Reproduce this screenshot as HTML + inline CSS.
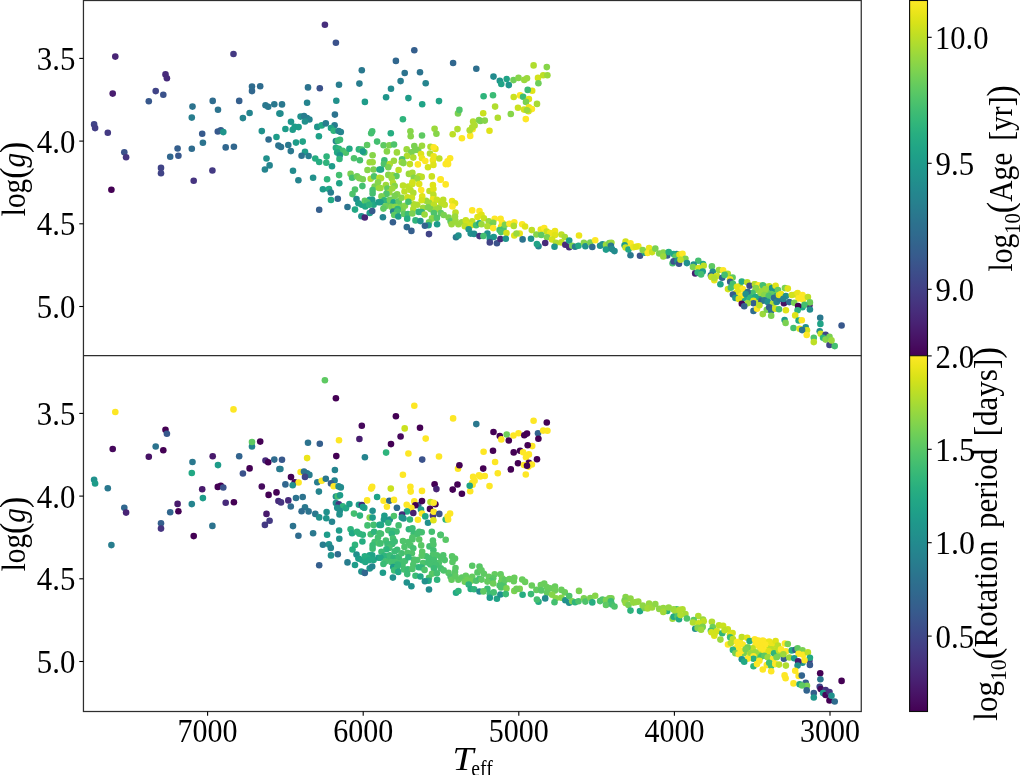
<!DOCTYPE html>
<html><head><meta charset="utf-8"><title>Teff logg</title>
<style>html,body{margin:0;padding:0;background:#fff}svg{display:block}text{font-family:"Liberation Serif",serif;fill:#000}</style>
</head><body>
<svg width="1020" height="775" viewBox="0 0 1020 775">
<rect width="1020" height="775" fill="#fff"/>
<defs><linearGradient id="vg" x1="0" y1="1" x2="0" y2="0">
<stop offset="0.0000" stop-color="#440154"/>
<stop offset="0.0312" stop-color="#470d60"/>
<stop offset="0.0625" stop-color="#48186a"/>
<stop offset="0.0938" stop-color="#482374"/>
<stop offset="0.1250" stop-color="#472d7b"/>
<stop offset="0.1562" stop-color="#453781"/>
<stop offset="0.1875" stop-color="#424086"/>
<stop offset="0.2188" stop-color="#3e4989"/>
<stop offset="0.2500" stop-color="#3b528b"/>
<stop offset="0.2812" stop-color="#375b8d"/>
<stop offset="0.3125" stop-color="#33638d"/>
<stop offset="0.3438" stop-color="#2f6b8e"/>
<stop offset="0.3750" stop-color="#2c728e"/>
<stop offset="0.4062" stop-color="#297a8e"/>
<stop offset="0.4375" stop-color="#26828e"/>
<stop offset="0.4688" stop-color="#23898e"/>
<stop offset="0.5000" stop-color="#21918c"/>
<stop offset="0.5312" stop-color="#1f988b"/>
<stop offset="0.5625" stop-color="#1fa088"/>
<stop offset="0.5938" stop-color="#22a785"/>
<stop offset="0.6250" stop-color="#28ae80"/>
<stop offset="0.6562" stop-color="#32b67a"/>
<stop offset="0.6875" stop-color="#3fbc73"/>
<stop offset="0.7188" stop-color="#4ec36b"/>
<stop offset="0.7500" stop-color="#5ec962"/>
<stop offset="0.7812" stop-color="#70cf57"/>
<stop offset="0.8125" stop-color="#84d44b"/>
<stop offset="0.8438" stop-color="#98d83e"/>
<stop offset="0.8750" stop-color="#addc30"/>
<stop offset="0.9062" stop-color="#c2df23"/>
<stop offset="0.9375" stop-color="#d8e219"/>
<stop offset="0.9688" stop-color="#ece51b"/>
<stop offset="1.0000" stop-color="#fde725"/>
</linearGradient>
<clipPath id="c1"><rect x="83.45" y="0.5" width="777.8499999999999" height="355.2"/></clipPath>
<clipPath id="c2"><rect x="83.45" y="355.7" width="777.8499999999999" height="355.75000000000006"/></clipPath>
</defs>
<g clip-path="url(#c1)">
<circle cx="399.6" cy="204.7" r="3.3" fill="#7ad151"/>
<circle cx="423.1" cy="207.7" r="3.3" fill="#9bd93c"/>
<circle cx="438.8" cy="207.7" r="3.3" fill="#9bd93c"/>
<circle cx="410.4" cy="190.0" r="3.3" fill="#bddf26"/>
<circle cx="385.9" cy="185.1" r="3.3" fill="#9bd93c"/>
<circle cx="426.1" cy="200.8" r="3.3" fill="#9bd93c"/>
<circle cx="417.3" cy="204.7" r="3.3" fill="#b0dd2f"/>
<circle cx="402.5" cy="209.6" r="3.3" fill="#7ad151"/>
<circle cx="388.8" cy="203.7" r="3.3" fill="#5ec962"/>
<circle cx="448.6" cy="217.5" r="3.3" fill="#7ad151"/>
<circle cx="458.4" cy="224.3" r="3.3" fill="#9bd93c"/>
<circle cx="444.7" cy="204.7" r="3.3" fill="#bddf26"/>
<circle cx="760.4" cy="289.6" r="3.3" fill="#9bd93c"/>
<circle cx="774.6" cy="292.6" r="3.3" fill="#7ad151"/>
<circle cx="739.8" cy="286.2" r="3.3" fill="#bddf26"/>
<circle cx="747.6" cy="292.1" r="3.3" fill="#7ad151"/>
<circle cx="755.5" cy="290.1" r="3.3" fill="#9bd93c"/>
<circle cx="762.4" cy="294.0" r="3.3" fill="#5ec962"/>
<circle cx="769.2" cy="292.1" r="3.3" fill="#7ad151"/>
<circle cx="775.1" cy="296.0" r="3.3" fill="#22a884"/>
<circle cx="759.4" cy="298.9" r="3.3" fill="#21918c"/>
<circle cx="767.3" cy="299.9" r="3.3" fill="#21918c"/>
<circle cx="749.6" cy="298.9" r="3.3" fill="#44bf70"/>
<circle cx="735.9" cy="293.0" r="3.3" fill="#dfe318"/>
<circle cx="743.7" cy="297.9" r="3.3" fill="#22a884"/>
<circle cx="773.1" cy="289.1" r="3.3" fill="#22a884"/>
<circle cx="764.3" cy="286.2" r="3.3" fill="#bddf26"/>
<circle cx="754.5" cy="284.2" r="3.3" fill="#dfe318"/>
<circle cx="777.1" cy="300.9" r="3.3" fill="#25848e"/>
<circle cx="115.3" cy="56.6" r="3.3" fill="#482475"/>
<circle cx="233.5" cy="54.0" r="3.3" fill="#443a83"/>
<circle cx="165.5" cy="74.4" r="3.3" fill="#472a7a"/>
<circle cx="166.9" cy="78.3" r="3.3" fill="#472a7a"/>
<circle cx="112.7" cy="93.6" r="3.3" fill="#481d6f"/>
<circle cx="155.7" cy="91.1" r="3.3" fill="#414487"/>
<circle cx="163.3" cy="94.8" r="3.3" fill="#3b528b"/>
<circle cx="148.8" cy="101.3" r="3.3" fill="#38588c"/>
<circle cx="252.0" cy="91.1" r="3.3" fill="#31678e"/>
<circle cx="252.0" cy="86.6" r="3.3" fill="#2f6c8e"/>
<circle cx="260.2" cy="86.2" r="3.3" fill="#2f6c8e"/>
<circle cx="212.7" cy="100.9" r="3.3" fill="#2f6c8e"/>
<circle cx="239.2" cy="100.9" r="3.3" fill="#355f8d"/>
<circle cx="192.5" cy="106.6" r="3.3" fill="#2c738e"/>
<circle cx="218.0" cy="109.7" r="3.3" fill="#2c738e"/>
<circle cx="265.5" cy="105.2" r="3.3" fill="#2a788e"/>
<circle cx="268.2" cy="106.8" r="3.3" fill="#2a788e"/>
<circle cx="274.3" cy="104.2" r="3.3" fill="#2a788e"/>
<circle cx="191.8" cy="117.6" r="3.3" fill="#287d8e"/>
<circle cx="249.6" cy="113.0" r="3.3" fill="#25848e"/>
<circle cx="242.9" cy="118.1" r="3.3" fill="#25848e"/>
<circle cx="94.1" cy="124.4" r="3.3" fill="#414487"/>
<circle cx="95.1" cy="128.1" r="3.3" fill="#433e85"/>
<circle cx="107.8" cy="132.8" r="3.3" fill="#443a83"/>
<circle cx="202.2" cy="133.8" r="3.3" fill="#375a8c"/>
<circle cx="217.8" cy="131.5" r="3.3" fill="#38588c"/>
<circle cx="220.8" cy="130.3" r="3.3" fill="#355f8d"/>
<circle cx="223.3" cy="132.1" r="3.3" fill="#1f958b"/>
<circle cx="261.8" cy="131.1" r="3.3" fill="#21918c"/>
<circle cx="276.5" cy="137.0" r="3.3" fill="#1e9c89"/>
<circle cx="268.6" cy="139.5" r="3.3" fill="#2f6c8e"/>
<circle cx="202.9" cy="142.7" r="3.3" fill="#2c738e"/>
<circle cx="279.4" cy="113.6" r="3.3" fill="#21918c"/>
<circle cx="278.4" cy="145.6" r="3.3" fill="#2c738e"/>
<circle cx="177.6" cy="148.5" r="3.3" fill="#355f8d"/>
<circle cx="191.8" cy="148.7" r="3.3" fill="#2f6c8e"/>
<circle cx="225.7" cy="147.4" r="3.3" fill="#31678e"/>
<circle cx="233.9" cy="146.8" r="3.3" fill="#31678e"/>
<circle cx="324.9" cy="24.8" r="3.3" fill="#472e7c"/>
<circle cx="335.9" cy="42.8" r="3.3" fill="#3b528b"/>
<circle cx="414.3" cy="50.3" r="3.3" fill="#355f8d"/>
<circle cx="395.9" cy="60.9" r="3.3" fill="#31678e"/>
<circle cx="453.1" cy="63.0" r="3.3" fill="#31678e"/>
<circle cx="476.3" cy="68.7" r="3.3" fill="#2e6f8e"/>
<circle cx="361.8" cy="70.3" r="3.3" fill="#2a788e"/>
<circle cx="404.7" cy="73.0" r="3.3" fill="#2c738e"/>
<circle cx="420.0" cy="72.3" r="3.3" fill="#2c738e"/>
<circle cx="400.6" cy="81.1" r="3.3" fill="#287d8e"/>
<circle cx="425.7" cy="83.2" r="3.3" fill="#25848e"/>
<circle cx="359.4" cy="83.6" r="3.3" fill="#287d8e"/>
<circle cx="339.0" cy="84.8" r="3.3" fill="#287d8e"/>
<circle cx="308.0" cy="87.4" r="3.3" fill="#2c738e"/>
<circle cx="319.8" cy="88.3" r="3.3" fill="#3b528b"/>
<circle cx="391.0" cy="88.7" r="3.3" fill="#228b8d"/>
<circle cx="386.1" cy="97.2" r="3.3" fill="#1f958b"/>
<circle cx="408.4" cy="98.1" r="3.3" fill="#1e9c89"/>
<circle cx="439.0" cy="101.1" r="3.3" fill="#20a386"/>
<circle cx="364.9" cy="101.9" r="3.3" fill="#1e9c89"/>
<circle cx="422.2" cy="104.2" r="3.3" fill="#20a386"/>
<circle cx="336.3" cy="100.7" r="3.3" fill="#21918c"/>
<circle cx="307.1" cy="102.7" r="3.3" fill="#25848e"/>
<circle cx="282.0" cy="104.4" r="3.3" fill="#2a788e"/>
<circle cx="280.4" cy="113.6" r="3.3" fill="#228b8d"/>
<circle cx="334.9" cy="114.6" r="3.3" fill="#2c738e"/>
<circle cx="458.0" cy="113.4" r="3.3" fill="#7ad151"/>
<circle cx="459.4" cy="109.9" r="3.3" fill="#4ec36b"/>
<circle cx="402.9" cy="119.3" r="3.3" fill="#2fb47c"/>
<circle cx="300.6" cy="116.6" r="3.3" fill="#21918c"/>
<circle cx="304.0" cy="116.1" r="3.3" fill="#287d8e"/>
<circle cx="307.0" cy="118.0" r="3.3" fill="#287d8e"/>
<circle cx="309.4" cy="119.5" r="3.3" fill="#25848e"/>
<circle cx="305.0" cy="121.5" r="3.3" fill="#21918c"/>
<circle cx="291.0" cy="121.7" r="3.3" fill="#1f958b"/>
<circle cx="294.7" cy="126.9" r="3.3" fill="#1e9c89"/>
<circle cx="298.6" cy="127.1" r="3.3" fill="#1e9c89"/>
<circle cx="292.7" cy="129.8" r="3.3" fill="#1e9c89"/>
<circle cx="285.4" cy="129.0" r="3.3" fill="#1e9c89"/>
<circle cx="317.3" cy="126.9" r="3.3" fill="#1f958b"/>
<circle cx="321.7" cy="125.4" r="3.3" fill="#22a884"/>
<circle cx="325.8" cy="123.4" r="3.3" fill="#287d8e"/>
<circle cx="334.6" cy="125.2" r="3.3" fill="#287d8e"/>
<circle cx="331.0" cy="128.0" r="3.3" fill="#20a386"/>
<circle cx="333.7" cy="130.8" r="3.3" fill="#2fb47c"/>
<circle cx="338.6" cy="131.0" r="3.3" fill="#25848e"/>
<circle cx="340.8" cy="132.0" r="3.3" fill="#25848e"/>
<circle cx="318.9" cy="136.2" r="3.3" fill="#1fa188"/>
<circle cx="372.2" cy="131.3" r="3.3" fill="#44bf70"/>
<circle cx="371.2" cy="133.2" r="3.3" fill="#44bf70"/>
<circle cx="335.9" cy="141.1" r="3.3" fill="#25848e"/>
<circle cx="337.8" cy="140.8" r="3.3" fill="#3bbb75"/>
<circle cx="340.0" cy="139.8" r="3.3" fill="#3bbb75"/>
<circle cx="377.1" cy="141.6" r="3.3" fill="#44bf70"/>
<circle cx="296.0" cy="142.6" r="3.3" fill="#1e9c89"/>
<circle cx="302.7" cy="141.6" r="3.3" fill="#20a386"/>
<circle cx="288.3" cy="145.0" r="3.3" fill="#2a788e"/>
<circle cx="281.0" cy="147.0" r="3.3" fill="#2c738e"/>
<circle cx="290.8" cy="151.1" r="3.3" fill="#2a788e"/>
<circle cx="367.1" cy="145.0" r="3.3" fill="#5ec962"/>
<circle cx="335.9" cy="147.7" r="3.3" fill="#26ad81"/>
<circle cx="338.8" cy="148.9" r="3.3" fill="#2fb47c"/>
<circle cx="342.7" cy="150.9" r="3.3" fill="#44bf70"/>
<circle cx="345.9" cy="152.8" r="3.3" fill="#4ec36b"/>
<circle cx="349.4" cy="148.7" r="3.3" fill="#22a884"/>
<circle cx="337.2" cy="152.4" r="3.3" fill="#22a884"/>
<circle cx="339.8" cy="155.3" r="3.3" fill="#1f958b"/>
<circle cx="339.5" cy="159.0" r="3.3" fill="#2fb47c"/>
<circle cx="358.9" cy="149.4" r="3.3" fill="#2fb47c"/>
<circle cx="361.9" cy="149.6" r="3.3" fill="#44bf70"/>
<circle cx="364.3" cy="152.4" r="3.3" fill="#44bf70"/>
<circle cx="362.8" cy="151.6" r="3.3" fill="#1e9c89"/>
<circle cx="305.0" cy="151.9" r="3.3" fill="#1e9c89"/>
<circle cx="301.6" cy="155.8" r="3.3" fill="#2c738e"/>
<circle cx="308.6" cy="156.0" r="3.3" fill="#287d8e"/>
<circle cx="372.6" cy="155.3" r="3.3" fill="#86d549"/>
<circle cx="326.6" cy="156.6" r="3.3" fill="#2fb47c"/>
<circle cx="315.3" cy="158.5" r="3.3" fill="#26ad81"/>
<circle cx="319.2" cy="162.0" r="3.3" fill="#26ad81"/>
<circle cx="326.3" cy="162.8" r="3.3" fill="#2fb47c"/>
<circle cx="332.0" cy="166.3" r="3.3" fill="#1e9c89"/>
<circle cx="354.0" cy="158.2" r="3.3" fill="#4ec36b"/>
<circle cx="359.9" cy="160.2" r="3.3" fill="#44bf70"/>
<circle cx="369.7" cy="162.2" r="3.3" fill="#9bd93c"/>
<circle cx="372.6" cy="162.2" r="3.3" fill="#9bd93c"/>
<circle cx="367.5" cy="170.0" r="3.3" fill="#86d549"/>
<circle cx="373.6" cy="169.5" r="3.3" fill="#7ad151"/>
<circle cx="379.5" cy="169.5" r="3.3" fill="#22a884"/>
<circle cx="293.0" cy="170.7" r="3.3" fill="#228b8d"/>
<circle cx="339.1" cy="175.1" r="3.3" fill="#44bf70"/>
<circle cx="350.6" cy="173.9" r="3.3" fill="#7ad151"/>
<circle cx="352.1" cy="177.8" r="3.3" fill="#44bf70"/>
<circle cx="357.0" cy="176.4" r="3.3" fill="#6ece58"/>
<circle cx="359.4" cy="178.3" r="3.3" fill="#7ad151"/>
<circle cx="362.8" cy="179.3" r="3.3" fill="#7ad151"/>
<circle cx="313.1" cy="177.8" r="3.3" fill="#21918c"/>
<circle cx="327.1" cy="179.3" r="3.3" fill="#2fb47c"/>
<circle cx="298.4" cy="180.3" r="3.3" fill="#25848e"/>
<circle cx="370.7" cy="178.8" r="3.3" fill="#b0dd2f"/>
<circle cx="374.1" cy="176.4" r="3.3" fill="#4ec36b"/>
<circle cx="379.5" cy="177.8" r="3.3" fill="#bddf26"/>
<circle cx="390.8" cy="133.2" r="3.3" fill="#26ad81"/>
<circle cx="410.4" cy="131.3" r="3.3" fill="#86d549"/>
<circle cx="410.7" cy="136.2" r="3.3" fill="#86d549"/>
<circle cx="422.0" cy="135.5" r="3.3" fill="#5ec962"/>
<circle cx="434.6" cy="128.8" r="3.3" fill="#9bd93c"/>
<circle cx="436.4" cy="133.7" r="3.3" fill="#86d549"/>
<circle cx="457.5" cy="129.1" r="3.3" fill="#b0dd2f"/>
<circle cx="452.7" cy="134.2" r="3.3" fill="#bddf26"/>
<circle cx="461.9" cy="138.3" r="3.3" fill="#fde725"/>
<circle cx="470.2" cy="135.9" r="3.3" fill="#fde725"/>
<circle cx="472.6" cy="129.3" r="3.3" fill="#fde725"/>
<circle cx="473.1" cy="121.5" r="3.3" fill="#b0dd2f"/>
<circle cx="474.6" cy="125.4" r="3.3" fill="#b0dd2f"/>
<circle cx="472.2" cy="127.4" r="3.3" fill="#b0dd2f"/>
<circle cx="469.7" cy="130.3" r="3.3" fill="#b0dd2f"/>
<circle cx="479.0" cy="120.0" r="3.3" fill="#86d549"/>
<circle cx="383.6" cy="145.3" r="3.3" fill="#5ec962"/>
<circle cx="389.3" cy="145.3" r="3.3" fill="#7ad151"/>
<circle cx="394.0" cy="144.5" r="3.3" fill="#4ec36b"/>
<circle cx="386.9" cy="151.4" r="3.3" fill="#86d549"/>
<circle cx="396.9" cy="152.4" r="3.3" fill="#9bd93c"/>
<circle cx="406.7" cy="149.4" r="3.3" fill="#9bd93c"/>
<circle cx="418.2" cy="149.9" r="3.3" fill="#7ad151"/>
<circle cx="414.3" cy="146.0" r="3.3" fill="#7ad151"/>
<circle cx="415.3" cy="149.9" r="3.3" fill="#7ad151"/>
<circle cx="411.4" cy="152.4" r="3.3" fill="#7ad151"/>
<circle cx="422.0" cy="145.7" r="3.3" fill="#9bd93c"/>
<circle cx="435.4" cy="148.9" r="3.3" fill="#dfe318"/>
<circle cx="430.5" cy="146.7" r="3.3" fill="#b0dd2f"/>
<circle cx="433.7" cy="147.3" r="3.3" fill="#fde725"/>
<circle cx="407.0" cy="156.0" r="3.3" fill="#b0dd2f"/>
<circle cx="413.3" cy="157.6" r="3.3" fill="#b0dd2f"/>
<circle cx="421.0" cy="154.1" r="3.3" fill="#dfe318"/>
<circle cx="422.0" cy="158.2" r="3.3" fill="#ece51b"/>
<circle cx="430.0" cy="153.5" r="3.3" fill="#b0dd2f"/>
<circle cx="425.3" cy="161.0" r="3.3" fill="#fde725"/>
<circle cx="432.9" cy="160.2" r="3.3" fill="#ece51b"/>
<circle cx="433.7" cy="156.3" r="3.3" fill="#ece51b"/>
<circle cx="439.3" cy="158.5" r="3.3" fill="#bddf26"/>
<circle cx="445.7" cy="164.1" r="3.3" fill="#fde725"/>
<circle cx="450.1" cy="158.2" r="3.3" fill="#fde725"/>
<circle cx="447.6" cy="161.2" r="3.3" fill="#fde725"/>
<circle cx="448.1" cy="164.1" r="3.3" fill="#fde725"/>
<circle cx="384.4" cy="160.4" r="3.3" fill="#3bbb75"/>
<circle cx="383.9" cy="164.1" r="3.3" fill="#4ec36b"/>
<circle cx="389.8" cy="164.1" r="3.3" fill="#b0dd2f"/>
<circle cx="393.9" cy="160.7" r="3.3" fill="#9bd93c"/>
<circle cx="388.3" cy="167.3" r="3.3" fill="#7ad151"/>
<circle cx="402.1" cy="159.2" r="3.3" fill="#4ec36b"/>
<circle cx="401.8" cy="162.2" r="3.3" fill="#9bd93c"/>
<circle cx="403.5" cy="163.1" r="3.3" fill="#86d549"/>
<circle cx="409.9" cy="164.1" r="3.3" fill="#bddf26"/>
<circle cx="417.9" cy="164.4" r="3.3" fill="#fde725"/>
<circle cx="428.0" cy="167.3" r="3.3" fill="#d2e21b"/>
<circle cx="433.4" cy="164.9" r="3.3" fill="#dfe318"/>
<circle cx="381.0" cy="169.5" r="3.3" fill="#22a884"/>
<circle cx="398.6" cy="170.0" r="3.3" fill="#bddf26"/>
<circle cx="388.3" cy="174.9" r="3.3" fill="#86d549"/>
<circle cx="392.7" cy="175.4" r="3.3" fill="#9bd93c"/>
<circle cx="396.5" cy="176.1" r="3.3" fill="#5ec962"/>
<circle cx="391.8" cy="178.3" r="3.3" fill="#9bd93c"/>
<circle cx="408.9" cy="173.9" r="3.3" fill="#9bd93c"/>
<circle cx="412.4" cy="172.9" r="3.3" fill="#a8db34"/>
<circle cx="413.8" cy="177.8" r="3.3" fill="#86d549"/>
<circle cx="419.2" cy="176.4" r="3.3" fill="#b0dd2f"/>
<circle cx="421.7" cy="176.9" r="3.3" fill="#bddf26"/>
<circle cx="417.3" cy="178.8" r="3.3" fill="#9bd93c"/>
<circle cx="431.8" cy="176.4" r="3.3" fill="#cae11f"/>
<circle cx="440.6" cy="179.3" r="3.3" fill="#fde725"/>
<circle cx="381.0" cy="178.3" r="3.3" fill="#b0dd2f"/>
<circle cx="533.6" cy="65.4" r="3.3" fill="#b0dd2f"/>
<circle cx="546.8" cy="67.1" r="3.3" fill="#86d549"/>
<circle cx="493.5" cy="76.6" r="3.3" fill="#228b8d"/>
<circle cx="499.8" cy="80.7" r="3.3" fill="#1f958b"/>
<circle cx="501.3" cy="84.0" r="3.3" fill="#20a386"/>
<circle cx="506.7" cy="79.1" r="3.3" fill="#20a386"/>
<circle cx="508.8" cy="85.1" r="3.3" fill="#1f958b"/>
<circle cx="513.5" cy="80.1" r="3.3" fill="#6ece58"/>
<circle cx="518.5" cy="77.9" r="3.3" fill="#86d549"/>
<circle cx="524.3" cy="79.9" r="3.3" fill="#9bd93c"/>
<circle cx="527.0" cy="78.2" r="3.3" fill="#9bd93c"/>
<circle cx="538.0" cy="77.9" r="3.3" fill="#d2e21b"/>
<circle cx="543.2" cy="75.2" r="3.3" fill="#bddf26"/>
<circle cx="547.4" cy="75.3" r="3.3" fill="#9bd93c"/>
<circle cx="538.4" cy="83.3" r="3.3" fill="#6ece58"/>
<circle cx="532.2" cy="90.7" r="3.3" fill="#dfe318"/>
<circle cx="527.7" cy="89.9" r="3.3" fill="#3bbb75"/>
<circle cx="483.6" cy="96.3" r="3.3" fill="#2fb47c"/>
<circle cx="493.0" cy="95.3" r="3.3" fill="#3bbb75"/>
<circle cx="513.7" cy="97.0" r="3.3" fill="#cae11f"/>
<circle cx="520.1" cy="95.4" r="3.3" fill="#fde725"/>
<circle cx="523.1" cy="96.8" r="3.3" fill="#3bbb75"/>
<circle cx="528.9" cy="99.0" r="3.3" fill="#dfe318"/>
<circle cx="526.0" cy="101.9" r="3.3" fill="#7ad151"/>
<circle cx="537.0" cy="103.9" r="3.3" fill="#a8db34"/>
<circle cx="495.1" cy="106.6" r="3.3" fill="#b0dd2f"/>
<circle cx="518.0" cy="107.8" r="3.3" fill="#cae11f"/>
<circle cx="528.9" cy="107.3" r="3.3" fill="#ece51b"/>
<circle cx="531.9" cy="109.1" r="3.3" fill="#fde725"/>
<circle cx="524.0" cy="109.6" r="3.3" fill="#d2e21b"/>
<circle cx="528.5" cy="111.2" r="3.3" fill="#d2e21b"/>
<circle cx="527.0" cy="110.3" r="3.3" fill="#9bd93c"/>
<circle cx="483.2" cy="113.2" r="3.3" fill="#cae11f"/>
<circle cx="510.8" cy="114.0" r="3.3" fill="#86d549"/>
<circle cx="497.8" cy="117.8" r="3.3" fill="#b0dd2f"/>
<circle cx="525.8" cy="119.1" r="3.3" fill="#fde725"/>
<circle cx="480.4" cy="121.0" r="3.3" fill="#7ad151"/>
<circle cx="484.8" cy="120.6" r="3.3" fill="#86d549"/>
<circle cx="489.5" cy="130.7" r="3.3" fill="#dfe318"/>
<circle cx="124.3" cy="152.3" r="3.3" fill="#3b528b"/>
<circle cx="126.1" cy="157.2" r="3.3" fill="#463480"/>
<circle cx="170.2" cy="156.8" r="3.3" fill="#31678e"/>
<circle cx="178.4" cy="155.8" r="3.3" fill="#38588c"/>
<circle cx="161.0" cy="167.9" r="3.3" fill="#414487"/>
<circle cx="161.0" cy="173.2" r="3.3" fill="#414487"/>
<circle cx="212.4" cy="170.5" r="3.3" fill="#443a83"/>
<circle cx="193.7" cy="180.7" r="3.3" fill="#463480"/>
<circle cx="111.4" cy="189.7" r="3.3" fill="#440154"/>
<circle cx="266.5" cy="158.5" r="3.3" fill="#21918c"/>
<circle cx="269.6" cy="165.4" r="3.3" fill="#25848e"/>
<circle cx="264.9" cy="169.5" r="3.3" fill="#25848e"/>
<circle cx="339.3" cy="183.3" r="3.3" fill="#20a386"/>
<circle cx="362.4" cy="186.1" r="3.3" fill="#44bf70"/>
<circle cx="322.9" cy="189.3" r="3.3" fill="#1e9c89"/>
<circle cx="329.0" cy="189.0" r="3.3" fill="#22a884"/>
<circle cx="330.8" cy="192.5" r="3.3" fill="#287d8e"/>
<circle cx="355.0" cy="189.5" r="3.3" fill="#4ec36b"/>
<circle cx="352.5" cy="194.1" r="3.3" fill="#4ec36b"/>
<circle cx="374.6" cy="186.6" r="3.3" fill="#7ad151"/>
<circle cx="372.6" cy="190.0" r="3.3" fill="#44bf70"/>
<circle cx="372.6" cy="193.4" r="3.3" fill="#44bf70"/>
<circle cx="379.0" cy="188.0" r="3.3" fill="#9bd93c"/>
<circle cx="378.0" cy="182.2" r="3.3" fill="#86d549"/>
<circle cx="331.0" cy="200.0" r="3.3" fill="#22a884"/>
<circle cx="337.8" cy="198.8" r="3.3" fill="#32648e"/>
<circle cx="356.5" cy="199.1" r="3.3" fill="#228b8d"/>
<circle cx="358.4" cy="203.2" r="3.3" fill="#1e9c89"/>
<circle cx="361.9" cy="204.7" r="3.3" fill="#20a386"/>
<circle cx="369.7" cy="199.8" r="3.3" fill="#1e9c89"/>
<circle cx="372.2" cy="199.8" r="3.3" fill="#1e9c89"/>
<circle cx="364.8" cy="200.8" r="3.3" fill="#5ec962"/>
<circle cx="367.3" cy="202.3" r="3.3" fill="#4ec36b"/>
<circle cx="373.6" cy="204.7" r="3.3" fill="#22a884"/>
<circle cx="365.3" cy="206.5" r="3.3" fill="#22a884"/>
<circle cx="369.2" cy="204.7" r="3.3" fill="#2fb47c"/>
<circle cx="378.5" cy="202.3" r="3.3" fill="#1e9c89"/>
<circle cx="319.2" cy="209.8" r="3.3" fill="#355f8d"/>
<circle cx="347.5" cy="207.0" r="3.3" fill="#2c738e"/>
<circle cx="355.0" cy="209.6" r="3.3" fill="#22a884"/>
<circle cx="369.7" cy="213.0" r="3.3" fill="#1e9c89"/>
<circle cx="372.2" cy="211.1" r="3.3" fill="#375a8c"/>
<circle cx="361.4" cy="216.2" r="3.3" fill="#21918c"/>
<circle cx="364.8" cy="217.5" r="3.3" fill="#482475"/>
<circle cx="393.0" cy="183.1" r="3.3" fill="#b0dd2f"/>
<circle cx="394.7" cy="186.1" r="3.3" fill="#86d549"/>
<circle cx="403.0" cy="185.6" r="3.3" fill="#bddf26"/>
<circle cx="408.4" cy="186.6" r="3.3" fill="#bddf26"/>
<circle cx="412.4" cy="184.1" r="3.3" fill="#cae11f"/>
<circle cx="412.4" cy="182.2" r="3.3" fill="#d2e21b"/>
<circle cx="419.2" cy="184.1" r="3.3" fill="#dfe318"/>
<circle cx="432.9" cy="185.1" r="3.3" fill="#dfe318"/>
<circle cx="445.7" cy="184.4" r="3.3" fill="#fde725"/>
<circle cx="440.6" cy="179.7" r="3.3" fill="#fde725"/>
<circle cx="380.5" cy="188.0" r="3.3" fill="#9bd93c"/>
<circle cx="387.4" cy="188.5" r="3.3" fill="#5ec962"/>
<circle cx="392.3" cy="188.5" r="3.3" fill="#9bd93c"/>
<circle cx="421.2" cy="190.0" r="3.3" fill="#fde725"/>
<circle cx="429.5" cy="191.0" r="3.3" fill="#bddf26"/>
<circle cx="433.4" cy="189.0" r="3.3" fill="#dfe318"/>
<circle cx="404.5" cy="191.5" r="3.3" fill="#bddf26"/>
<circle cx="413.3" cy="192.9" r="3.3" fill="#b0dd2f"/>
<circle cx="389.3" cy="192.5" r="3.3" fill="#9bd93c"/>
<circle cx="386.4" cy="193.9" r="3.3" fill="#4ec36b"/>
<circle cx="397.2" cy="194.4" r="3.3" fill="#86d549"/>
<circle cx="394.7" cy="195.9" r="3.3" fill="#7ad151"/>
<circle cx="433.4" cy="194.9" r="3.3" fill="#bddf26"/>
<circle cx="381.5" cy="196.4" r="3.3" fill="#7ad151"/>
<circle cx="384.4" cy="200.3" r="3.3" fill="#2fb47c"/>
<circle cx="380.5" cy="202.3" r="3.3" fill="#1e9c89"/>
<circle cx="389.8" cy="199.8" r="3.3" fill="#6ece58"/>
<circle cx="393.7" cy="202.3" r="3.3" fill="#22a884"/>
<circle cx="398.6" cy="201.3" r="3.3" fill="#5ec962"/>
<circle cx="401.6" cy="197.8" r="3.3" fill="#86d549"/>
<circle cx="407.5" cy="197.4" r="3.3" fill="#cae11f"/>
<circle cx="411.9" cy="197.8" r="3.3" fill="#cae11f"/>
<circle cx="422.2" cy="196.4" r="3.3" fill="#dfe318"/>
<circle cx="421.7" cy="200.3" r="3.3" fill="#d2e21b"/>
<circle cx="432.9" cy="199.3" r="3.3" fill="#ece51b"/>
<circle cx="436.9" cy="199.8" r="3.3" fill="#cae11f"/>
<circle cx="443.2" cy="199.8" r="3.3" fill="#bddf26"/>
<circle cx="441.3" cy="202.8" r="3.3" fill="#bddf26"/>
<circle cx="452.1" cy="201.0" r="3.3" fill="#ece51b"/>
<circle cx="455.0" cy="203.2" r="3.3" fill="#dfe318"/>
<circle cx="452.5" cy="206.5" r="3.3" fill="#fde725"/>
<circle cx="429.0" cy="202.8" r="3.3" fill="#9bd93c"/>
<circle cx="433.9" cy="204.7" r="3.3" fill="#bddf26"/>
<circle cx="413.8" cy="204.2" r="3.3" fill="#b0dd2f"/>
<circle cx="405.0" cy="205.7" r="3.3" fill="#86d549"/>
<circle cx="408.4" cy="201.8" r="3.3" fill="#44bf70"/>
<circle cx="385.4" cy="206.2" r="3.3" fill="#6ece58"/>
<circle cx="383.4" cy="208.6" r="3.3" fill="#5ec962"/>
<circle cx="391.3" cy="206.7" r="3.3" fill="#7ad151"/>
<circle cx="395.2" cy="206.7" r="3.3" fill="#86d549"/>
<circle cx="397.6" cy="209.1" r="3.3" fill="#2fb47c"/>
<circle cx="413.3" cy="209.1" r="3.3" fill="#b0dd2f"/>
<circle cx="428.0" cy="207.2" r="3.3" fill="#7ad151"/>
<circle cx="430.5" cy="209.1" r="3.3" fill="#7ad151"/>
<circle cx="435.9" cy="209.6" r="3.3" fill="#9bd93c"/>
<circle cx="393.2" cy="211.6" r="3.3" fill="#25848e"/>
<circle cx="397.2" cy="211.6" r="3.3" fill="#44bf70"/>
<circle cx="394.2" cy="215.0" r="3.3" fill="#5ec962"/>
<circle cx="398.3" cy="216.5" r="3.3" fill="#1e9c89"/>
<circle cx="404.0" cy="214.0" r="3.3" fill="#5ec962"/>
<circle cx="407.9" cy="214.0" r="3.3" fill="#3bbb75"/>
<circle cx="412.4" cy="213.5" r="3.3" fill="#7ad151"/>
<circle cx="418.7" cy="211.9" r="3.3" fill="#2fb47c"/>
<circle cx="421.7" cy="212.1" r="3.3" fill="#2fb47c"/>
<circle cx="424.6" cy="214.5" r="3.3" fill="#9bd93c"/>
<circle cx="433.9" cy="213.0" r="3.3" fill="#4ec36b"/>
<circle cx="440.8" cy="213.0" r="3.3" fill="#5ec962"/>
<circle cx="443.7" cy="215.0" r="3.3" fill="#7ad151"/>
<circle cx="432.0" cy="218.4" r="3.3" fill="#86d549"/>
<circle cx="436.9" cy="217.9" r="3.3" fill="#4ec36b"/>
<circle cx="455.5" cy="212.6" r="3.3" fill="#bddf26"/>
<circle cx="455.0" cy="216.5" r="3.3" fill="#9bd93c"/>
<circle cx="472.2" cy="210.4" r="3.3" fill="#fde725"/>
<circle cx="479.5" cy="211.1" r="3.3" fill="#fde725"/>
<circle cx="477.5" cy="217.0" r="3.3" fill="#dfe318"/>
<circle cx="382.9" cy="217.3" r="3.3" fill="#25848e"/>
<circle cx="407.2" cy="218.7" r="3.3" fill="#26ad81"/>
<circle cx="415.5" cy="220.4" r="3.3" fill="#2fb47c"/>
<circle cx="420.4" cy="221.1" r="3.3" fill="#21918c"/>
<circle cx="429.0" cy="222.4" r="3.3" fill="#6ece58"/>
<circle cx="428.5" cy="225.3" r="3.3" fill="#1e9c89"/>
<circle cx="437.1" cy="224.3" r="3.3" fill="#1e9c89"/>
<circle cx="424.9" cy="225.8" r="3.3" fill="#32648e"/>
<circle cx="392.9" cy="222.2" r="3.3" fill="#355f8d"/>
<circle cx="450.6" cy="221.4" r="3.3" fill="#5ec962"/>
<circle cx="451.6" cy="224.3" r="3.3" fill="#9bd93c"/>
<circle cx="455.5" cy="220.9" r="3.3" fill="#9bd93c"/>
<circle cx="461.9" cy="222.2" r="3.3" fill="#9bd93c"/>
<circle cx="465.8" cy="220.4" r="3.3" fill="#cae11f"/>
<circle cx="467.3" cy="224.3" r="3.3" fill="#d2e21b"/>
<circle cx="472.2" cy="221.4" r="3.3" fill="#bddf26"/>
<circle cx="471.2" cy="225.3" r="3.3" fill="#d2e21b"/>
<circle cx="476.1" cy="225.3" r="3.3" fill="#44bf70"/>
<circle cx="479.5" cy="223.3" r="3.3" fill="#22a884"/>
<circle cx="464.8" cy="226.3" r="3.3" fill="#bddf26"/>
<circle cx="406.8" cy="227.1" r="3.3" fill="#2f6c8e"/>
<circle cx="411.4" cy="230.9" r="3.3" fill="#355f8d"/>
<circle cx="429.0" cy="234.1" r="3.3" fill="#414487"/>
<circle cx="456.0" cy="237.3" r="3.3" fill="#2a788e"/>
<circle cx="458.4" cy="235.6" r="3.3" fill="#21918c"/>
<circle cx="468.7" cy="229.2" r="3.3" fill="#1f958b"/>
<circle cx="470.7" cy="233.6" r="3.3" fill="#21918c"/>
<circle cx="474.1" cy="233.9" r="3.3" fill="#228b8d"/>
<circle cx="479.5" cy="236.1" r="3.3" fill="#463480"/>
<circle cx="481.5" cy="214.9" r="3.3" fill="#dfe318"/>
<circle cx="483.9" cy="218.3" r="3.3" fill="#cae11f"/>
<circle cx="481.5" cy="224.2" r="3.3" fill="#9bd93c"/>
<circle cx="488.8" cy="221.3" r="3.3" fill="#9bd93c"/>
<circle cx="494.7" cy="218.8" r="3.3" fill="#fde725"/>
<circle cx="493.2" cy="222.8" r="3.3" fill="#7ad151"/>
<circle cx="500.6" cy="218.8" r="3.3" fill="#fde725"/>
<circle cx="490.8" cy="225.7" r="3.3" fill="#6ece58"/>
<circle cx="487.4" cy="226.2" r="3.3" fill="#b0dd2f"/>
<circle cx="493.2" cy="228.1" r="3.3" fill="#fde725"/>
<circle cx="502.1" cy="222.8" r="3.3" fill="#fde725"/>
<circle cx="501.1" cy="226.7" r="3.3" fill="#ece51b"/>
<circle cx="503.5" cy="229.1" r="3.3" fill="#4ec36b"/>
<circle cx="499.6" cy="230.1" r="3.3" fill="#44bf70"/>
<circle cx="501.1" cy="232.1" r="3.3" fill="#4ec36b"/>
<circle cx="506.5" cy="233.0" r="3.3" fill="#d2e21b"/>
<circle cx="505.0" cy="224.7" r="3.3" fill="#7ad151"/>
<circle cx="509.4" cy="223.7" r="3.3" fill="#fde725"/>
<circle cx="514.3" cy="222.3" r="3.3" fill="#fde725"/>
<circle cx="513.8" cy="225.9" r="3.3" fill="#b0dd2f"/>
<circle cx="522.2" cy="224.2" r="3.3" fill="#fde725"/>
<circle cx="525.1" cy="226.5" r="3.3" fill="#dfe318"/>
<circle cx="531.8" cy="230.1" r="3.3" fill="#bddf26"/>
<circle cx="519.7" cy="233.5" r="3.3" fill="#ece51b"/>
<circle cx="514.3" cy="235.5" r="3.3" fill="#dfe318"/>
<circle cx="516.5" cy="233.5" r="3.3" fill="#9bd93c"/>
<circle cx="540.8" cy="229.6" r="3.3" fill="#ece51b"/>
<circle cx="544.2" cy="228.1" r="3.3" fill="#fde725"/>
<circle cx="546.7" cy="231.6" r="3.3" fill="#cae11f"/>
<circle cx="550.1" cy="233.0" r="3.3" fill="#ece51b"/>
<circle cx="555.0" cy="231.1" r="3.3" fill="#ece51b"/>
<circle cx="536.4" cy="234.5" r="3.3" fill="#86d549"/>
<circle cx="541.3" cy="235.0" r="3.3" fill="#5ec962"/>
<circle cx="547.0" cy="237.3" r="3.3" fill="#7ad151"/>
<circle cx="555.0" cy="235.0" r="3.3" fill="#dfe318"/>
<circle cx="552.1" cy="239.4" r="3.3" fill="#d2e21b"/>
<circle cx="561.4" cy="234.5" r="3.3" fill="#bddf26"/>
<circle cx="564.8" cy="237.0" r="3.3" fill="#a8db34"/>
<circle cx="561.4" cy="242.4" r="3.3" fill="#bddf26"/>
<circle cx="556.0" cy="242.8" r="3.3" fill="#b0dd2f"/>
<circle cx="579.0" cy="235.5" r="3.3" fill="#ece51b"/>
<circle cx="487.4" cy="233.5" r="3.3" fill="#21918c"/>
<circle cx="489.8" cy="238.4" r="3.3" fill="#1f958b"/>
<circle cx="493.7" cy="237.0" r="3.3" fill="#1f958b"/>
<circle cx="483.4" cy="236.0" r="3.3" fill="#44bf70"/>
<circle cx="489.8" cy="242.4" r="3.3" fill="#414487"/>
<circle cx="496.9" cy="243.3" r="3.3" fill="#3b528b"/>
<circle cx="500.4" cy="239.1" r="3.3" fill="#472a7a"/>
<circle cx="505.8" cy="238.7" r="3.3" fill="#1f958b"/>
<circle cx="522.6" cy="239.4" r="3.3" fill="#2c738e"/>
<circle cx="531.0" cy="238.7" r="3.3" fill="#21918c"/>
<circle cx="538.5" cy="246.3" r="3.3" fill="#25848e"/>
<circle cx="536.9" cy="244.1" r="3.3" fill="#20a386"/>
<circle cx="545.2" cy="243.0" r="3.3" fill="#472a7a"/>
<circle cx="554.5" cy="246.8" r="3.3" fill="#1f958b"/>
<circle cx="565.3" cy="244.8" r="3.3" fill="#472a7a"/>
<circle cx="569.2" cy="247.3" r="3.3" fill="#472a7a"/>
<circle cx="569.2" cy="240.6" r="3.3" fill="#1e9c89"/>
<circle cx="572.2" cy="245.8" r="3.3" fill="#7ad151"/>
<circle cx="575.1" cy="246.8" r="3.3" fill="#287d8e"/>
<circle cx="578.5" cy="245.8" r="3.3" fill="#22a884"/>
<circle cx="583.9" cy="242.8" r="3.3" fill="#86d549"/>
<circle cx="585.4" cy="246.2" r="3.3" fill="#21918c"/>
<circle cx="590.3" cy="242.6" r="3.3" fill="#7ad151"/>
<circle cx="595.2" cy="240.3" r="3.3" fill="#fde725"/>
<circle cx="592.3" cy="247.0" r="3.3" fill="#2f6c8e"/>
<circle cx="600.1" cy="245.7" r="3.3" fill="#21918c"/>
<circle cx="602.5" cy="244.2" r="3.3" fill="#21918c"/>
<circle cx="606.0" cy="244.7" r="3.3" fill="#9bd93c"/>
<circle cx="609.4" cy="243.0" r="3.3" fill="#7ad151"/>
<circle cx="611.4" cy="242.8" r="3.3" fill="#9bd93c"/>
<circle cx="610.9" cy="245.9" r="3.3" fill="#2a788e"/>
<circle cx="606.0" cy="249.6" r="3.3" fill="#1e9c89"/>
<circle cx="611.9" cy="249.1" r="3.3" fill="#228b8d"/>
<circle cx="614.5" cy="251.1" r="3.3" fill="#228b8d"/>
<circle cx="625.6" cy="241.6" r="3.3" fill="#d2e21b"/>
<circle cx="630.5" cy="243.2" r="3.3" fill="#fde725"/>
<circle cx="624.6" cy="245.2" r="3.3" fill="#1e9c89"/>
<circle cx="625.6" cy="247.5" r="3.3" fill="#cae11f"/>
<circle cx="628.5" cy="249.6" r="3.3" fill="#22a884"/>
<circle cx="633.4" cy="247.2" r="3.3" fill="#ece51b"/>
<circle cx="638.3" cy="246.2" r="3.3" fill="#ece51b"/>
<circle cx="635.9" cy="246.7" r="3.3" fill="#dfe318"/>
<circle cx="630.5" cy="255.2" r="3.3" fill="#2a788e"/>
<circle cx="640.0" cy="255.7" r="3.3" fill="#3b528b"/>
<circle cx="644.7" cy="252.6" r="3.3" fill="#1e9c89"/>
<circle cx="642.7" cy="250.1" r="3.3" fill="#86d549"/>
<circle cx="649.1" cy="248.1" r="3.3" fill="#ece51b"/>
<circle cx="647.6" cy="253.0" r="3.3" fill="#fde725"/>
<circle cx="652.1" cy="252.1" r="3.3" fill="#cae11f"/>
<circle cx="655.3" cy="248.6" r="3.3" fill="#7ad151"/>
<circle cx="667.3" cy="255.5" r="3.3" fill="#355f8d"/>
<circle cx="659.2" cy="253.5" r="3.3" fill="#7ad151"/>
<circle cx="663.3" cy="252.6" r="3.3" fill="#86d549"/>
<circle cx="663.3" cy="256.5" r="3.3" fill="#9bd93c"/>
<circle cx="668.7" cy="252.1" r="3.3" fill="#26ad81"/>
<circle cx="676.6" cy="254.0" r="3.3" fill="#25848e"/>
<circle cx="673.6" cy="254.0" r="3.3" fill="#22a884"/>
<circle cx="675.6" cy="256.5" r="3.3" fill="#5ec962"/>
<circle cx="679.5" cy="254.5" r="3.3" fill="#dfe318"/>
<circle cx="672.6" cy="263.3" r="3.3" fill="#44bf70"/>
<circle cx="673.6" cy="261.4" r="3.3" fill="#3b528b"/>
<circle cx="677.5" cy="260.9" r="3.3" fill="#228b8d"/>
<circle cx="679.0" cy="263.8" r="3.3" fill="#3b528b"/>
<circle cx="682.5" cy="253.8" r="3.3" fill="#fde725"/>
<circle cx="685.4" cy="258.7" r="3.3" fill="#7ad151"/>
<circle cx="680.5" cy="259.7" r="3.3" fill="#bddf26"/>
<circle cx="686.9" cy="263.1" r="3.3" fill="#21918c"/>
<circle cx="698.3" cy="260.7" r="3.3" fill="#44bf70"/>
<circle cx="703.0" cy="264.1" r="3.3" fill="#22a884"/>
<circle cx="703.7" cy="265.8" r="3.3" fill="#bddf26"/>
<circle cx="693.7" cy="264.6" r="3.3" fill="#21918c"/>
<circle cx="693.0" cy="267.1" r="3.3" fill="#7ad151"/>
<circle cx="698.6" cy="268.0" r="3.3" fill="#d2e21b"/>
<circle cx="695.2" cy="273.4" r="3.3" fill="#481d6f"/>
<circle cx="697.6" cy="272.5" r="3.3" fill="#2fb47c"/>
<circle cx="702.7" cy="271.5" r="3.3" fill="#1e9c89"/>
<circle cx="701.1" cy="274.4" r="3.3" fill="#44bf70"/>
<circle cx="711.9" cy="266.4" r="3.3" fill="#5ec962"/>
<circle cx="712.8" cy="271.7" r="3.3" fill="#228b8d"/>
<circle cx="710.9" cy="275.4" r="3.3" fill="#2f6c8e"/>
<circle cx="711.4" cy="276.9" r="3.3" fill="#bddf26"/>
<circle cx="714.3" cy="280.3" r="3.3" fill="#ece51b"/>
<circle cx="716.8" cy="275.9" r="3.3" fill="#cae11f"/>
<circle cx="714.3" cy="278.3" r="3.3" fill="#b0dd2f"/>
<circle cx="719.0" cy="270.0" r="3.3" fill="#9bd93c"/>
<circle cx="723.1" cy="270.3" r="3.3" fill="#fde725"/>
<circle cx="727.8" cy="273.9" r="3.3" fill="#b0dd2f"/>
<circle cx="722.2" cy="277.8" r="3.3" fill="#32648e"/>
<circle cx="724.6" cy="274.9" r="3.3" fill="#44bf70"/>
<circle cx="732.6" cy="277.6" r="3.3" fill="#5ec962"/>
<circle cx="730.0" cy="279.3" r="3.3" fill="#ece51b"/>
<circle cx="730.2" cy="281.8" r="3.3" fill="#355f8d"/>
<circle cx="732.9" cy="283.7" r="3.3" fill="#44bf70"/>
<circle cx="720.4" cy="284.2" r="3.3" fill="#20a386"/>
<circle cx="741.8" cy="281.6" r="3.3" fill="#26ad81"/>
<circle cx="747.2" cy="282.3" r="3.3" fill="#bddf26"/>
<circle cx="749.6" cy="285.7" r="3.3" fill="#3e4989"/>
<circle cx="728.0" cy="289.1" r="3.3" fill="#d2e21b"/>
<circle cx="730.8" cy="287.7" r="3.3" fill="#44bf70"/>
<circle cx="736.9" cy="286.7" r="3.3" fill="#dfe318"/>
<circle cx="742.7" cy="289.1" r="3.3" fill="#fde725"/>
<circle cx="737.8" cy="292.1" r="3.3" fill="#dfe318"/>
<circle cx="741.3" cy="295.5" r="3.3" fill="#fde725"/>
<circle cx="732.9" cy="294.5" r="3.3" fill="#375a8c"/>
<circle cx="735.4" cy="297.9" r="3.3" fill="#21918c"/>
<circle cx="738.8" cy="298.9" r="3.3" fill="#dfe318"/>
<circle cx="755.0" cy="284.2" r="3.3" fill="#b0dd2f"/>
<circle cx="758.4" cy="285.2" r="3.3" fill="#fde725"/>
<circle cx="756.0" cy="288.1" r="3.3" fill="#86d549"/>
<circle cx="762.8" cy="285.2" r="3.3" fill="#44bf70"/>
<circle cx="752.5" cy="293.0" r="3.3" fill="#44bf70"/>
<circle cx="747.6" cy="292.1" r="3.3" fill="#2f6c8e"/>
<circle cx="745.7" cy="294.0" r="3.3" fill="#21918c"/>
<circle cx="769.2" cy="286.2" r="3.3" fill="#bddf26"/>
<circle cx="772.0" cy="288.1" r="3.3" fill="#1f958b"/>
<circle cx="775.6" cy="285.7" r="3.3" fill="#dfe318"/>
<circle cx="765.3" cy="289.1" r="3.3" fill="#9bd93c"/>
<circle cx="778.0" cy="290.1" r="3.3" fill="#5ec962"/>
<circle cx="760.4" cy="293.0" r="3.3" fill="#9bd93c"/>
<circle cx="764.3" cy="295.0" r="3.3" fill="#86d549"/>
<circle cx="771.2" cy="294.0" r="3.3" fill="#5ec962"/>
<circle cx="768.7" cy="296.0" r="3.3" fill="#4ec36b"/>
<circle cx="750.6" cy="297.9" r="3.3" fill="#2fb47c"/>
<circle cx="755.5" cy="297.0" r="3.3" fill="#22a884"/>
<circle cx="753.5" cy="300.9" r="3.3" fill="#dfe318"/>
<circle cx="753.5" cy="303.3" r="3.3" fill="#355f8d"/>
<circle cx="747.6" cy="303.3" r="3.3" fill="#9bd93c"/>
<circle cx="741.8" cy="303.8" r="3.3" fill="#46085c"/>
<circle cx="759.4" cy="302.8" r="3.3" fill="#bddf26"/>
<circle cx="761.4" cy="300.9" r="3.3" fill="#355f8d"/>
<circle cx="764.3" cy="300.4" r="3.3" fill="#2a788e"/>
<circle cx="767.7" cy="301.9" r="3.3" fill="#21918c"/>
<circle cx="773.1" cy="303.3" r="3.3" fill="#b0dd2f"/>
<circle cx="774.1" cy="297.9" r="3.3" fill="#2f6c8e"/>
<circle cx="776.6" cy="301.9" r="3.3" fill="#25848e"/>
<circle cx="779.5" cy="298.9" r="3.3" fill="#2a788e"/>
<circle cx="779.0" cy="295.0" r="3.3" fill="#dfe318"/>
<circle cx="783.9" cy="303.3" r="3.3" fill="#471365"/>
<circle cx="809.4" cy="305.3" r="3.3" fill="#471365"/>
<circle cx="789.3" cy="302.1" r="3.3" fill="#2f6c8e"/>
<circle cx="784.9" cy="288.1" r="3.3" fill="#7ad151"/>
<circle cx="787.8" cy="288.6" r="3.3" fill="#dfe318"/>
<circle cx="781.0" cy="294.0" r="3.3" fill="#ece51b"/>
<circle cx="785.9" cy="296.0" r="3.3" fill="#21918c"/>
<circle cx="783.4" cy="298.9" r="3.3" fill="#25848e"/>
<circle cx="791.8" cy="295.0" r="3.3" fill="#d2e21b"/>
<circle cx="795.5" cy="294.5" r="3.3" fill="#d2e21b"/>
<circle cx="797.6" cy="293.0" r="3.3" fill="#ece51b"/>
<circle cx="802.5" cy="295.0" r="3.3" fill="#fde725"/>
<circle cx="798.6" cy="298.4" r="3.3" fill="#fde725"/>
<circle cx="803.0" cy="299.4" r="3.3" fill="#fde725"/>
<circle cx="807.9" cy="297.0" r="3.3" fill="#bddf26"/>
<circle cx="809.9" cy="302.4" r="3.3" fill="#6ece58"/>
<circle cx="794.2" cy="302.8" r="3.3" fill="#7ad151"/>
<circle cx="802.5" cy="307.3" r="3.3" fill="#22a884"/>
<circle cx="804.5" cy="304.8" r="3.3" fill="#44bf70"/>
<circle cx="798.1" cy="306.0" r="3.3" fill="#440154"/>
<circle cx="797.6" cy="310.2" r="3.3" fill="#2fb47c"/>
<circle cx="809.9" cy="309.5" r="3.3" fill="#228b8d"/>
<circle cx="785.9" cy="310.2" r="3.3" fill="#dfe318"/>
<circle cx="795.2" cy="315.4" r="3.3" fill="#dfe318"/>
<circle cx="820.2" cy="317.8" r="3.3" fill="#2a788e"/>
<circle cx="820.4" cy="323.9" r="3.3" fill="#20a386"/>
<circle cx="784.6" cy="320.0" r="3.3" fill="#1e9c89"/>
<circle cx="785.6" cy="322.9" r="3.3" fill="#7ad151"/>
<circle cx="798.6" cy="320.5" r="3.3" fill="#22a884"/>
<circle cx="801.8" cy="320.2" r="3.3" fill="#fde725"/>
<circle cx="793.5" cy="328.0" r="3.3" fill="#44bf70"/>
<circle cx="799.6" cy="328.8" r="3.3" fill="#dfe318"/>
<circle cx="805.7" cy="327.4" r="3.3" fill="#21918c"/>
<circle cx="807.0" cy="330.3" r="3.3" fill="#d2e21b"/>
<circle cx="802.1" cy="330.1" r="3.3" fill="#2c738e"/>
<circle cx="806.7" cy="335.0" r="3.3" fill="#fde725"/>
<circle cx="819.7" cy="331.3" r="3.3" fill="#228b8d"/>
<circle cx="820.7" cy="333.7" r="3.3" fill="#cae11f"/>
<circle cx="825.6" cy="334.7" r="3.3" fill="#414487"/>
<circle cx="823.1" cy="337.7" r="3.3" fill="#2fb47c"/>
<circle cx="825.6" cy="339.6" r="3.3" fill="#86d549"/>
<circle cx="829.5" cy="336.7" r="3.3" fill="#7ad151"/>
<circle cx="813.8" cy="337.7" r="3.3" fill="#4ec36b"/>
<circle cx="813.8" cy="342.1" r="3.3" fill="#bddf26"/>
<circle cx="829.5" cy="345.0" r="3.3" fill="#414487"/>
<circle cx="753.5" cy="310.9" r="3.3" fill="#2f6c8e"/>
<circle cx="757.0" cy="308.7" r="3.3" fill="#fde725"/>
<circle cx="759.4" cy="305.3" r="3.3" fill="#bddf26"/>
<circle cx="762.8" cy="314.1" r="3.3" fill="#9bd93c"/>
<circle cx="766.8" cy="309.7" r="3.3" fill="#7ad151"/>
<circle cx="769.2" cy="307.3" r="3.3" fill="#355f8d"/>
<circle cx="771.2" cy="310.7" r="3.3" fill="#2f6c8e"/>
<circle cx="771.2" cy="315.8" r="3.3" fill="#7ad151"/>
<circle cx="775.3" cy="308.7" r="3.3" fill="#d2e21b"/>
<circle cx="779.0" cy="309.2" r="3.3" fill="#44bf70"/>
<circle cx="744.2" cy="306.3" r="3.3" fill="#355f8d"/>
<circle cx="841.6" cy="325.5" r="3.3" fill="#38588c"/>
<circle cx="834.7" cy="346.1" r="3.3" fill="#44bf70"/>
<circle cx="831.5" cy="340.4" r="3.3" fill="#9bd93c"/>
</g>
<g clip-path="url(#c2)">
<circle cx="399.6" cy="560.1" r="3.3" fill="#44bf70"/>
<circle cx="423.1" cy="563.1" r="3.3" fill="#4ec36b"/>
<circle cx="438.8" cy="563.1" r="3.3" fill="#4ec36b"/>
<circle cx="410.4" cy="545.4" r="3.3" fill="#4ec36b"/>
<circle cx="385.9" cy="540.5" r="3.3" fill="#44bf70"/>
<circle cx="426.1" cy="556.2" r="3.3" fill="#44bf70"/>
<circle cx="417.3" cy="560.1" r="3.3" fill="#4ec36b"/>
<circle cx="402.5" cy="565.0" r="3.3" fill="#44bf70"/>
<circle cx="388.8" cy="559.1" r="3.3" fill="#3bbb75"/>
<circle cx="448.6" cy="572.9" r="3.3" fill="#58c765"/>
<circle cx="458.4" cy="579.7" r="3.3" fill="#63cb5f"/>
<circle cx="444.7" cy="560.1" r="3.3" fill="#4ec36b"/>
<circle cx="760.4" cy="645.0" r="3.3" fill="#fde725"/>
<circle cx="774.6" cy="648.0" r="3.3" fill="#dfe318"/>
<circle cx="739.8" cy="641.6" r="3.3" fill="#fde725"/>
<circle cx="747.6" cy="647.5" r="3.3" fill="#bddf26"/>
<circle cx="755.5" cy="645.5" r="3.3" fill="#fde725"/>
<circle cx="762.4" cy="649.4" r="3.3" fill="#dfe318"/>
<circle cx="769.2" cy="647.5" r="3.3" fill="#bddf26"/>
<circle cx="775.1" cy="651.4" r="3.3" fill="#bddf26"/>
<circle cx="759.4" cy="654.3" r="3.3" fill="#9bd93c"/>
<circle cx="767.3" cy="655.3" r="3.3" fill="#7ad151"/>
<circle cx="749.6" cy="654.3" r="3.3" fill="#fde725"/>
<circle cx="735.9" cy="648.4" r="3.3" fill="#fde725"/>
<circle cx="743.7" cy="653.3" r="3.3" fill="#7ad151"/>
<circle cx="773.1" cy="644.5" r="3.3" fill="#bddf26"/>
<circle cx="764.3" cy="641.6" r="3.3" fill="#fde725"/>
<circle cx="754.5" cy="639.6" r="3.3" fill="#fde725"/>
<circle cx="777.1" cy="656.3" r="3.3" fill="#44bf70"/>
<circle cx="115.3" cy="412.0" r="3.3" fill="#fde725"/>
<circle cx="233.5" cy="409.4" r="3.3" fill="#fde725"/>
<circle cx="165.5" cy="429.8" r="3.3" fill="#440154"/>
<circle cx="166.9" cy="433.7" r="3.3" fill="#38588c"/>
<circle cx="112.7" cy="449.0" r="3.3" fill="#46085c"/>
<circle cx="155.7" cy="446.5" r="3.3" fill="#2c738e"/>
<circle cx="163.3" cy="450.2" r="3.3" fill="#440154"/>
<circle cx="148.8" cy="456.7" r="3.3" fill="#471365"/>
<circle cx="252.0" cy="446.5" r="3.3" fill="#25848e"/>
<circle cx="252.0" cy="442.0" r="3.3" fill="#5ec962"/>
<circle cx="260.2" cy="441.6" r="3.3" fill="#440154"/>
<circle cx="212.7" cy="456.3" r="3.3" fill="#481a6c"/>
<circle cx="239.2" cy="456.3" r="3.3" fill="#32648e"/>
<circle cx="192.5" cy="462.0" r="3.3" fill="#2a788e"/>
<circle cx="218.0" cy="465.1" r="3.3" fill="#1e9c89"/>
<circle cx="265.5" cy="460.6" r="3.3" fill="#472a7a"/>
<circle cx="268.2" cy="462.2" r="3.3" fill="#440154"/>
<circle cx="274.3" cy="459.6" r="3.3" fill="#2f6c8e"/>
<circle cx="191.8" cy="473.0" r="3.3" fill="#22a884"/>
<circle cx="249.6" cy="468.4" r="3.3" fill="#440154"/>
<circle cx="242.9" cy="473.5" r="3.3" fill="#3b528b"/>
<circle cx="94.1" cy="479.8" r="3.3" fill="#21918c"/>
<circle cx="95.1" cy="483.5" r="3.3" fill="#1e9c89"/>
<circle cx="107.8" cy="488.2" r="3.3" fill="#2a788e"/>
<circle cx="202.2" cy="489.2" r="3.3" fill="#481a6c"/>
<circle cx="217.8" cy="486.9" r="3.3" fill="#440154"/>
<circle cx="220.8" cy="485.7" r="3.3" fill="#440154"/>
<circle cx="223.3" cy="487.5" r="3.3" fill="#3b528b"/>
<circle cx="261.8" cy="486.5" r="3.3" fill="#460b5e"/>
<circle cx="276.5" cy="492.4" r="3.3" fill="#440154"/>
<circle cx="268.6" cy="494.9" r="3.3" fill="#440154"/>
<circle cx="202.9" cy="498.1" r="3.3" fill="#1e9c89"/>
<circle cx="279.4" cy="469.0" r="3.3" fill="#2c738e"/>
<circle cx="278.4" cy="501.0" r="3.3" fill="#472a7a"/>
<circle cx="177.6" cy="503.9" r="3.3" fill="#481a6c"/>
<circle cx="191.8" cy="504.1" r="3.3" fill="#25848e"/>
<circle cx="225.7" cy="502.8" r="3.3" fill="#472a7a"/>
<circle cx="233.9" cy="502.2" r="3.3" fill="#440154"/>
<circle cx="324.9" cy="380.2" r="3.3" fill="#5ec962"/>
<circle cx="335.9" cy="398.2" r="3.3" fill="#440154"/>
<circle cx="414.3" cy="405.7" r="3.3" fill="#fde725"/>
<circle cx="395.9" cy="416.3" r="3.3" fill="#440154"/>
<circle cx="453.1" cy="418.4" r="3.3" fill="#fde725"/>
<circle cx="476.3" cy="424.1" r="3.3" fill="#2a788e"/>
<circle cx="361.8" cy="425.7" r="3.3" fill="#46085c"/>
<circle cx="404.7" cy="428.4" r="3.3" fill="#cae11f"/>
<circle cx="420.0" cy="427.7" r="3.3" fill="#440154"/>
<circle cx="400.6" cy="436.5" r="3.3" fill="#46085c"/>
<circle cx="425.7" cy="438.6" r="3.3" fill="#fde725"/>
<circle cx="359.4" cy="439.0" r="3.3" fill="#481d6f"/>
<circle cx="339.0" cy="440.2" r="3.3" fill="#fde725"/>
<circle cx="308.0" cy="442.8" r="3.3" fill="#2c738e"/>
<circle cx="319.8" cy="443.7" r="3.3" fill="#355f8d"/>
<circle cx="391.0" cy="444.1" r="3.3" fill="#440154"/>
<circle cx="386.1" cy="452.6" r="3.3" fill="#2fb47c"/>
<circle cx="408.4" cy="453.5" r="3.3" fill="#fde725"/>
<circle cx="439.0" cy="456.5" r="3.3" fill="#fde725"/>
<circle cx="364.9" cy="457.3" r="3.3" fill="#25848e"/>
<circle cx="422.2" cy="459.6" r="3.3" fill="#3b528b"/>
<circle cx="336.3" cy="456.1" r="3.3" fill="#440154"/>
<circle cx="307.1" cy="458.1" r="3.3" fill="#ece51b"/>
<circle cx="282.0" cy="459.8" r="3.3" fill="#38588c"/>
<circle cx="280.4" cy="469.0" r="3.3" fill="#287d8e"/>
<circle cx="334.9" cy="470.0" r="3.3" fill="#25848e"/>
<circle cx="458.0" cy="468.8" r="3.3" fill="#fde725"/>
<circle cx="459.4" cy="465.3" r="3.3" fill="#440154"/>
<circle cx="402.9" cy="474.7" r="3.3" fill="#fde725"/>
<circle cx="300.6" cy="472.0" r="3.3" fill="#fde725"/>
<circle cx="304.0" cy="471.5" r="3.3" fill="#2c738e"/>
<circle cx="307.0" cy="473.4" r="3.3" fill="#2c738e"/>
<circle cx="309.4" cy="474.9" r="3.3" fill="#287d8e"/>
<circle cx="305.0" cy="476.9" r="3.3" fill="#414487"/>
<circle cx="291.0" cy="477.1" r="3.3" fill="#440154"/>
<circle cx="294.7" cy="482.3" r="3.3" fill="#46085c"/>
<circle cx="298.6" cy="482.5" r="3.3" fill="#fde725"/>
<circle cx="292.7" cy="485.2" r="3.3" fill="#21918c"/>
<circle cx="285.4" cy="484.4" r="3.3" fill="#31678e"/>
<circle cx="317.3" cy="482.3" r="3.3" fill="#287d8e"/>
<circle cx="321.7" cy="480.8" r="3.3" fill="#fde725"/>
<circle cx="325.8" cy="478.8" r="3.3" fill="#2a788e"/>
<circle cx="334.6" cy="480.6" r="3.3" fill="#25848e"/>
<circle cx="331.0" cy="483.4" r="3.3" fill="#355f8d"/>
<circle cx="333.7" cy="486.2" r="3.3" fill="#fde725"/>
<circle cx="338.6" cy="486.4" r="3.3" fill="#228b8d"/>
<circle cx="340.8" cy="487.4" r="3.3" fill="#228b8d"/>
<circle cx="318.9" cy="491.6" r="3.3" fill="#25848e"/>
<circle cx="372.2" cy="486.7" r="3.3" fill="#fde725"/>
<circle cx="371.2" cy="488.6" r="3.3" fill="#fde725"/>
<circle cx="335.9" cy="496.5" r="3.3" fill="#21918c"/>
<circle cx="337.8" cy="496.2" r="3.3" fill="#44bf70"/>
<circle cx="340.0" cy="495.2" r="3.3" fill="#1e9c89"/>
<circle cx="377.1" cy="497.0" r="3.3" fill="#20a386"/>
<circle cx="296.0" cy="498.0" r="3.3" fill="#2c738e"/>
<circle cx="302.7" cy="497.0" r="3.3" fill="#2c738e"/>
<circle cx="288.3" cy="500.4" r="3.3" fill="#472a7a"/>
<circle cx="281.0" cy="502.4" r="3.3" fill="#463480"/>
<circle cx="290.8" cy="506.5" r="3.3" fill="#2f6c8e"/>
<circle cx="367.1" cy="500.4" r="3.3" fill="#fde725"/>
<circle cx="335.9" cy="503.1" r="3.3" fill="#21918c"/>
<circle cx="338.8" cy="504.3" r="3.3" fill="#463480"/>
<circle cx="342.7" cy="506.3" r="3.3" fill="#2fb47c"/>
<circle cx="345.9" cy="508.2" r="3.3" fill="#22a884"/>
<circle cx="349.4" cy="504.1" r="3.3" fill="#1e9c89"/>
<circle cx="337.2" cy="507.8" r="3.3" fill="#21918c"/>
<circle cx="339.8" cy="510.7" r="3.3" fill="#21918c"/>
<circle cx="339.5" cy="514.4" r="3.3" fill="#21918c"/>
<circle cx="358.9" cy="504.8" r="3.3" fill="#1e9c89"/>
<circle cx="361.9" cy="505.0" r="3.3" fill="#472a7a"/>
<circle cx="364.3" cy="507.8" r="3.3" fill="#22a884"/>
<circle cx="362.8" cy="507.0" r="3.3" fill="#1e9c89"/>
<circle cx="305.0" cy="507.3" r="3.3" fill="#2a788e"/>
<circle cx="301.6" cy="511.2" r="3.3" fill="#2f6c8e"/>
<circle cx="308.6" cy="511.4" r="3.3" fill="#2c738e"/>
<circle cx="372.6" cy="510.7" r="3.3" fill="#21918c"/>
<circle cx="326.6" cy="512.0" r="3.3" fill="#21918c"/>
<circle cx="315.3" cy="513.9" r="3.3" fill="#2a788e"/>
<circle cx="319.2" cy="517.4" r="3.3" fill="#21918c"/>
<circle cx="326.3" cy="518.2" r="3.3" fill="#1f958b"/>
<circle cx="332.0" cy="521.7" r="3.3" fill="#25848e"/>
<circle cx="354.0" cy="513.6" r="3.3" fill="#44bf70"/>
<circle cx="359.9" cy="515.6" r="3.3" fill="#2fb47c"/>
<circle cx="369.7" cy="517.6" r="3.3" fill="#86d549"/>
<circle cx="372.6" cy="517.6" r="3.3" fill="#1e9c89"/>
<circle cx="367.5" cy="525.4" r="3.3" fill="#44bf70"/>
<circle cx="373.6" cy="524.9" r="3.3" fill="#44bf70"/>
<circle cx="379.5" cy="524.9" r="3.3" fill="#22a884"/>
<circle cx="293.0" cy="526.1" r="3.3" fill="#2c738e"/>
<circle cx="339.1" cy="530.5" r="3.3" fill="#1e9c89"/>
<circle cx="350.6" cy="529.3" r="3.3" fill="#2fb47c"/>
<circle cx="352.1" cy="533.2" r="3.3" fill="#22a884"/>
<circle cx="357.0" cy="531.8" r="3.3" fill="#2fb47c"/>
<circle cx="359.4" cy="533.7" r="3.3" fill="#2fb47c"/>
<circle cx="362.8" cy="534.7" r="3.3" fill="#2fb47c"/>
<circle cx="313.1" cy="533.2" r="3.3" fill="#2a788e"/>
<circle cx="327.1" cy="534.7" r="3.3" fill="#1e9c89"/>
<circle cx="298.4" cy="535.7" r="3.3" fill="#2f6c8e"/>
<circle cx="370.7" cy="534.2" r="3.3" fill="#44bf70"/>
<circle cx="374.1" cy="531.8" r="3.3" fill="#2fb47c"/>
<circle cx="379.5" cy="533.2" r="3.3" fill="#44bf70"/>
<circle cx="390.8" cy="488.6" r="3.3" fill="#cae11f"/>
<circle cx="410.4" cy="486.7" r="3.3" fill="#fde725"/>
<circle cx="410.7" cy="491.6" r="3.3" fill="#fde725"/>
<circle cx="422.0" cy="490.9" r="3.3" fill="#fde725"/>
<circle cx="434.6" cy="484.2" r="3.3" fill="#440154"/>
<circle cx="436.4" cy="489.1" r="3.3" fill="#482475"/>
<circle cx="457.5" cy="484.5" r="3.3" fill="#440154"/>
<circle cx="452.7" cy="489.6" r="3.3" fill="#440154"/>
<circle cx="461.9" cy="493.7" r="3.3" fill="#440154"/>
<circle cx="470.2" cy="491.3" r="3.3" fill="#fde725"/>
<circle cx="472.6" cy="484.7" r="3.3" fill="#fde725"/>
<circle cx="473.1" cy="476.9" r="3.3" fill="#fde725"/>
<circle cx="474.6" cy="480.8" r="3.3" fill="#fde725"/>
<circle cx="472.2" cy="482.8" r="3.3" fill="#fde725"/>
<circle cx="469.7" cy="485.7" r="3.3" fill="#20a386"/>
<circle cx="479.0" cy="475.4" r="3.3" fill="#fde725"/>
<circle cx="383.6" cy="500.7" r="3.3" fill="#fde725"/>
<circle cx="389.3" cy="500.7" r="3.3" fill="#2f6c8e"/>
<circle cx="394.0" cy="499.9" r="3.3" fill="#fde725"/>
<circle cx="386.9" cy="506.8" r="3.3" fill="#fde725"/>
<circle cx="396.9" cy="507.8" r="3.3" fill="#2f6c8e"/>
<circle cx="406.7" cy="504.8" r="3.3" fill="#fde725"/>
<circle cx="418.2" cy="505.3" r="3.3" fill="#355f8d"/>
<circle cx="414.3" cy="501.4" r="3.3" fill="#fde725"/>
<circle cx="415.3" cy="505.3" r="3.3" fill="#440154"/>
<circle cx="411.4" cy="507.8" r="3.3" fill="#fde725"/>
<circle cx="422.0" cy="501.1" r="3.3" fill="#440154"/>
<circle cx="435.4" cy="504.3" r="3.3" fill="#440154"/>
<circle cx="430.5" cy="502.1" r="3.3" fill="#bddf26"/>
<circle cx="433.7" cy="502.7" r="3.3" fill="#fde725"/>
<circle cx="407.0" cy="511.4" r="3.3" fill="#22a884"/>
<circle cx="413.3" cy="513.0" r="3.3" fill="#481d6f"/>
<circle cx="421.0" cy="509.5" r="3.3" fill="#1e9c89"/>
<circle cx="422.0" cy="513.6" r="3.3" fill="#fde725"/>
<circle cx="430.0" cy="508.9" r="3.3" fill="#440154"/>
<circle cx="425.3" cy="516.4" r="3.3" fill="#22a884"/>
<circle cx="432.9" cy="515.6" r="3.3" fill="#463480"/>
<circle cx="433.7" cy="511.7" r="3.3" fill="#fde725"/>
<circle cx="439.3" cy="513.9" r="3.3" fill="#3b528b"/>
<circle cx="445.7" cy="519.5" r="3.3" fill="#2fb47c"/>
<circle cx="450.1" cy="513.6" r="3.3" fill="#fde725"/>
<circle cx="447.6" cy="516.6" r="3.3" fill="#fde725"/>
<circle cx="448.1" cy="519.5" r="3.3" fill="#fde725"/>
<circle cx="384.4" cy="515.8" r="3.3" fill="#1e9c89"/>
<circle cx="383.9" cy="519.5" r="3.3" fill="#1e9c89"/>
<circle cx="389.8" cy="519.5" r="3.3" fill="#21918c"/>
<circle cx="393.9" cy="516.1" r="3.3" fill="#4ec36b"/>
<circle cx="388.3" cy="522.7" r="3.3" fill="#2fb47c"/>
<circle cx="402.1" cy="514.6" r="3.3" fill="#472a7a"/>
<circle cx="401.8" cy="517.6" r="3.3" fill="#1e9c89"/>
<circle cx="403.5" cy="518.5" r="3.3" fill="#21918c"/>
<circle cx="409.9" cy="519.5" r="3.3" fill="#2fb47c"/>
<circle cx="417.9" cy="519.8" r="3.3" fill="#fde725"/>
<circle cx="428.0" cy="522.7" r="3.3" fill="#21918c"/>
<circle cx="433.4" cy="520.3" r="3.3" fill="#dfe318"/>
<circle cx="381.0" cy="524.9" r="3.3" fill="#22a884"/>
<circle cx="398.6" cy="525.4" r="3.3" fill="#44bf70"/>
<circle cx="388.3" cy="530.3" r="3.3" fill="#44bf70"/>
<circle cx="392.7" cy="530.8" r="3.3" fill="#3bbb75"/>
<circle cx="396.5" cy="531.5" r="3.3" fill="#3bbb75"/>
<circle cx="391.8" cy="533.7" r="3.3" fill="#2fb47c"/>
<circle cx="408.9" cy="529.3" r="3.3" fill="#2fb47c"/>
<circle cx="412.4" cy="528.3" r="3.3" fill="#3bbb75"/>
<circle cx="413.8" cy="533.2" r="3.3" fill="#3bbb75"/>
<circle cx="419.2" cy="531.8" r="3.3" fill="#44bf70"/>
<circle cx="421.7" cy="532.3" r="3.3" fill="#44bf70"/>
<circle cx="417.3" cy="534.2" r="3.3" fill="#44bf70"/>
<circle cx="431.8" cy="531.8" r="3.3" fill="#44bf70"/>
<circle cx="440.6" cy="534.7" r="3.3" fill="#44bf70"/>
<circle cx="381.0" cy="533.7" r="3.3" fill="#44bf70"/>
<circle cx="533.6" cy="420.8" r="3.3" fill="#fde725"/>
<circle cx="546.8" cy="422.5" r="3.3" fill="#440154"/>
<circle cx="493.5" cy="432.0" r="3.3" fill="#440154"/>
<circle cx="499.8" cy="436.1" r="3.3" fill="#440154"/>
<circle cx="501.3" cy="439.4" r="3.3" fill="#fde725"/>
<circle cx="506.7" cy="434.5" r="3.3" fill="#6ece58"/>
<circle cx="508.8" cy="440.5" r="3.3" fill="#440154"/>
<circle cx="513.5" cy="435.5" r="3.3" fill="#fde725"/>
<circle cx="518.5" cy="433.3" r="3.3" fill="#fde725"/>
<circle cx="524.3" cy="435.3" r="3.3" fill="#440154"/>
<circle cx="527.0" cy="433.6" r="3.3" fill="#440154"/>
<circle cx="538.0" cy="433.3" r="3.3" fill="#32648e"/>
<circle cx="543.2" cy="430.6" r="3.3" fill="#fde725"/>
<circle cx="547.4" cy="430.7" r="3.3" fill="#fde725"/>
<circle cx="538.4" cy="438.7" r="3.3" fill="#440154"/>
<circle cx="532.2" cy="446.1" r="3.3" fill="#fde725"/>
<circle cx="527.7" cy="445.3" r="3.3" fill="#440154"/>
<circle cx="483.6" cy="451.7" r="3.3" fill="#fde725"/>
<circle cx="493.0" cy="450.7" r="3.3" fill="#440154"/>
<circle cx="513.7" cy="452.4" r="3.3" fill="#440154"/>
<circle cx="520.1" cy="450.8" r="3.3" fill="#440154"/>
<circle cx="523.1" cy="452.2" r="3.3" fill="#fde725"/>
<circle cx="528.9" cy="454.4" r="3.3" fill="#fde725"/>
<circle cx="526.0" cy="457.3" r="3.3" fill="#fde725"/>
<circle cx="537.0" cy="459.3" r="3.3" fill="#440154"/>
<circle cx="495.1" cy="462.0" r="3.3" fill="#fde725"/>
<circle cx="518.0" cy="463.2" r="3.3" fill="#440154"/>
<circle cx="528.9" cy="462.7" r="3.3" fill="#440154"/>
<circle cx="531.9" cy="464.5" r="3.3" fill="#fde725"/>
<circle cx="524.0" cy="465.0" r="3.3" fill="#fde725"/>
<circle cx="528.5" cy="466.6" r="3.3" fill="#fde725"/>
<circle cx="527.0" cy="465.7" r="3.3" fill="#440154"/>
<circle cx="483.2" cy="468.6" r="3.3" fill="#440154"/>
<circle cx="510.8" cy="469.4" r="3.3" fill="#440154"/>
<circle cx="497.8" cy="473.2" r="3.3" fill="#fde725"/>
<circle cx="525.8" cy="474.5" r="3.3" fill="#fde725"/>
<circle cx="480.4" cy="476.4" r="3.3" fill="#fde725"/>
<circle cx="484.8" cy="476.0" r="3.3" fill="#fde725"/>
<circle cx="489.5" cy="486.1" r="3.3" fill="#fde725"/>
<circle cx="124.3" cy="507.7" r="3.3" fill="#31678e"/>
<circle cx="126.1" cy="512.6" r="3.3" fill="#482475"/>
<circle cx="170.2" cy="512.2" r="3.3" fill="#31678e"/>
<circle cx="178.4" cy="511.2" r="3.3" fill="#440154"/>
<circle cx="161.0" cy="523.3" r="3.3" fill="#355f8d"/>
<circle cx="161.0" cy="528.6" r="3.3" fill="#463480"/>
<circle cx="212.4" cy="525.9" r="3.3" fill="#2c738e"/>
<circle cx="193.7" cy="536.1" r="3.3" fill="#440154"/>
<circle cx="111.4" cy="545.1" r="3.3" fill="#287d8e"/>
<circle cx="266.5" cy="513.9" r="3.3" fill="#481a6c"/>
<circle cx="269.6" cy="520.8" r="3.3" fill="#443a83"/>
<circle cx="264.9" cy="524.9" r="3.3" fill="#443a83"/>
<circle cx="339.3" cy="538.7" r="3.3" fill="#21918c"/>
<circle cx="362.4" cy="541.5" r="3.3" fill="#26ad81"/>
<circle cx="322.9" cy="544.7" r="3.3" fill="#287d8e"/>
<circle cx="329.0" cy="544.4" r="3.3" fill="#21918c"/>
<circle cx="330.8" cy="547.9" r="3.3" fill="#25848e"/>
<circle cx="355.0" cy="544.9" r="3.3" fill="#2fb47c"/>
<circle cx="352.5" cy="549.5" r="3.3" fill="#26ad81"/>
<circle cx="374.6" cy="542.0" r="3.3" fill="#44bf70"/>
<circle cx="372.6" cy="545.4" r="3.3" fill="#3bbb75"/>
<circle cx="372.6" cy="548.8" r="3.3" fill="#3bbb75"/>
<circle cx="379.0" cy="543.4" r="3.3" fill="#4ec36b"/>
<circle cx="378.0" cy="537.6" r="3.3" fill="#44bf70"/>
<circle cx="331.0" cy="555.4" r="3.3" fill="#21918c"/>
<circle cx="337.8" cy="554.2" r="3.3" fill="#2f6c8e"/>
<circle cx="356.5" cy="554.5" r="3.3" fill="#21918c"/>
<circle cx="358.4" cy="558.6" r="3.3" fill="#1e9c89"/>
<circle cx="361.9" cy="560.1" r="3.3" fill="#20a386"/>
<circle cx="369.7" cy="555.2" r="3.3" fill="#20a386"/>
<circle cx="372.2" cy="555.2" r="3.3" fill="#20a386"/>
<circle cx="364.8" cy="556.2" r="3.3" fill="#26ad81"/>
<circle cx="367.3" cy="557.7" r="3.3" fill="#26ad81"/>
<circle cx="373.6" cy="560.1" r="3.3" fill="#22a884"/>
<circle cx="365.3" cy="561.9" r="3.3" fill="#22a884"/>
<circle cx="369.2" cy="560.1" r="3.3" fill="#22a884"/>
<circle cx="378.5" cy="557.7" r="3.3" fill="#1e9c89"/>
<circle cx="319.2" cy="565.2" r="3.3" fill="#355f8d"/>
<circle cx="347.5" cy="562.4" r="3.3" fill="#287d8e"/>
<circle cx="355.0" cy="565.0" r="3.3" fill="#1e9c89"/>
<circle cx="369.7" cy="568.4" r="3.3" fill="#1f958b"/>
<circle cx="372.2" cy="566.5" r="3.3" fill="#25848e"/>
<circle cx="361.4" cy="571.6" r="3.3" fill="#21918c"/>
<circle cx="364.8" cy="572.9" r="3.3" fill="#31678e"/>
<circle cx="393.0" cy="538.5" r="3.3" fill="#44bf70"/>
<circle cx="394.7" cy="541.5" r="3.3" fill="#3bbb75"/>
<circle cx="403.0" cy="541.0" r="3.3" fill="#4ec36b"/>
<circle cx="408.4" cy="542.0" r="3.3" fill="#4ec36b"/>
<circle cx="412.4" cy="539.5" r="3.3" fill="#4ec36b"/>
<circle cx="412.4" cy="537.6" r="3.3" fill="#4ec36b"/>
<circle cx="419.2" cy="539.5" r="3.3" fill="#58c765"/>
<circle cx="432.9" cy="540.5" r="3.3" fill="#4ec36b"/>
<circle cx="445.7" cy="539.8" r="3.3" fill="#58c765"/>
<circle cx="440.6" cy="535.1" r="3.3" fill="#4ec36b"/>
<circle cx="380.5" cy="543.4" r="3.3" fill="#44bf70"/>
<circle cx="387.4" cy="543.9" r="3.3" fill="#3bbb75"/>
<circle cx="392.3" cy="543.9" r="3.3" fill="#3bbb75"/>
<circle cx="421.2" cy="545.4" r="3.3" fill="#58c765"/>
<circle cx="429.5" cy="546.4" r="3.3" fill="#44bf70"/>
<circle cx="433.4" cy="544.4" r="3.3" fill="#4ec36b"/>
<circle cx="404.5" cy="546.9" r="3.3" fill="#4ec36b"/>
<circle cx="413.3" cy="548.3" r="3.3" fill="#44bf70"/>
<circle cx="389.3" cy="547.9" r="3.3" fill="#44bf70"/>
<circle cx="386.4" cy="549.3" r="3.3" fill="#2fb47c"/>
<circle cx="397.2" cy="549.8" r="3.3" fill="#3bbb75"/>
<circle cx="394.7" cy="551.3" r="3.3" fill="#3bbb75"/>
<circle cx="433.4" cy="550.3" r="3.3" fill="#44bf70"/>
<circle cx="381.5" cy="551.8" r="3.3" fill="#3bbb75"/>
<circle cx="384.4" cy="555.7" r="3.3" fill="#2fb47c"/>
<circle cx="380.5" cy="557.7" r="3.3" fill="#22a884"/>
<circle cx="389.8" cy="555.2" r="3.3" fill="#3bbb75"/>
<circle cx="393.7" cy="557.7" r="3.3" fill="#2fb47c"/>
<circle cx="398.6" cy="556.7" r="3.3" fill="#3bbb75"/>
<circle cx="401.6" cy="553.2" r="3.3" fill="#44bf70"/>
<circle cx="407.5" cy="552.8" r="3.3" fill="#4ec36b"/>
<circle cx="411.9" cy="553.2" r="3.3" fill="#4ec36b"/>
<circle cx="422.2" cy="551.8" r="3.3" fill="#58c765"/>
<circle cx="421.7" cy="555.7" r="3.3" fill="#58c765"/>
<circle cx="432.9" cy="554.7" r="3.3" fill="#4ec36b"/>
<circle cx="436.9" cy="555.2" r="3.3" fill="#4ec36b"/>
<circle cx="443.2" cy="555.2" r="3.3" fill="#4ec36b"/>
<circle cx="441.3" cy="558.2" r="3.3" fill="#4ec36b"/>
<circle cx="452.1" cy="556.4" r="3.3" fill="#58c765"/>
<circle cx="455.0" cy="558.6" r="3.3" fill="#58c765"/>
<circle cx="452.5" cy="561.9" r="3.3" fill="#58c765"/>
<circle cx="429.0" cy="558.2" r="3.3" fill="#44bf70"/>
<circle cx="433.9" cy="560.1" r="3.3" fill="#44bf70"/>
<circle cx="413.8" cy="559.6" r="3.3" fill="#4ec36b"/>
<circle cx="405.0" cy="561.1" r="3.3" fill="#44bf70"/>
<circle cx="408.4" cy="557.2" r="3.3" fill="#32b67a"/>
<circle cx="385.4" cy="561.6" r="3.3" fill="#44bf70"/>
<circle cx="383.4" cy="564.0" r="3.3" fill="#3bbb75"/>
<circle cx="391.3" cy="562.1" r="3.3" fill="#44bf70"/>
<circle cx="395.2" cy="562.1" r="3.3" fill="#44bf70"/>
<circle cx="397.6" cy="564.5" r="3.3" fill="#32b67a"/>
<circle cx="413.3" cy="564.5" r="3.3" fill="#4ec36b"/>
<circle cx="428.0" cy="562.6" r="3.3" fill="#44bf70"/>
<circle cx="430.5" cy="564.5" r="3.3" fill="#44bf70"/>
<circle cx="435.9" cy="565.0" r="3.3" fill="#44bf70"/>
<circle cx="393.2" cy="567.0" r="3.3" fill="#1e9c89"/>
<circle cx="397.2" cy="567.0" r="3.3" fill="#32b67a"/>
<circle cx="394.2" cy="570.4" r="3.3" fill="#3bbb75"/>
<circle cx="398.3" cy="571.9" r="3.3" fill="#22a884"/>
<circle cx="404.0" cy="569.4" r="3.3" fill="#44bf70"/>
<circle cx="407.9" cy="569.4" r="3.3" fill="#3bbb75"/>
<circle cx="412.4" cy="568.9" r="3.3" fill="#4ec36b"/>
<circle cx="418.7" cy="567.3" r="3.3" fill="#32b67a"/>
<circle cx="421.7" cy="567.5" r="3.3" fill="#32b67a"/>
<circle cx="424.6" cy="569.9" r="3.3" fill="#4ec36b"/>
<circle cx="433.9" cy="568.4" r="3.3" fill="#3bbb75"/>
<circle cx="440.8" cy="568.4" r="3.3" fill="#44bf70"/>
<circle cx="443.7" cy="570.4" r="3.3" fill="#4ec36b"/>
<circle cx="432.0" cy="573.8" r="3.3" fill="#58c765"/>
<circle cx="436.9" cy="573.3" r="3.3" fill="#44bf70"/>
<circle cx="455.5" cy="568.0" r="3.3" fill="#58c765"/>
<circle cx="455.0" cy="571.9" r="3.3" fill="#58c765"/>
<circle cx="472.2" cy="565.8" r="3.3" fill="#58c765"/>
<circle cx="479.5" cy="566.5" r="3.3" fill="#58c765"/>
<circle cx="477.5" cy="572.4" r="3.3" fill="#58c765"/>
<circle cx="382.9" cy="572.7" r="3.3" fill="#1e9c89"/>
<circle cx="407.2" cy="574.1" r="3.3" fill="#3bbb75"/>
<circle cx="415.5" cy="575.8" r="3.3" fill="#3bbb75"/>
<circle cx="420.4" cy="576.5" r="3.3" fill="#22a884"/>
<circle cx="429.0" cy="577.8" r="3.3" fill="#4ec36b"/>
<circle cx="428.5" cy="580.7" r="3.3" fill="#22a884"/>
<circle cx="437.1" cy="579.7" r="3.3" fill="#2fb47c"/>
<circle cx="424.9" cy="581.2" r="3.3" fill="#21918c"/>
<circle cx="392.9" cy="577.6" r="3.3" fill="#21918c"/>
<circle cx="450.6" cy="576.8" r="3.3" fill="#4ec36b"/>
<circle cx="451.6" cy="579.7" r="3.3" fill="#63cb5f"/>
<circle cx="455.5" cy="576.3" r="3.3" fill="#5ec962"/>
<circle cx="461.9" cy="577.6" r="3.3" fill="#5ec962"/>
<circle cx="465.8" cy="575.8" r="3.3" fill="#63cb5f"/>
<circle cx="467.3" cy="579.7" r="3.3" fill="#6ece58"/>
<circle cx="472.2" cy="576.8" r="3.3" fill="#63cb5f"/>
<circle cx="471.2" cy="580.7" r="3.3" fill="#6ece58"/>
<circle cx="476.1" cy="580.7" r="3.3" fill="#4ec36b"/>
<circle cx="479.5" cy="578.7" r="3.3" fill="#44bf70"/>
<circle cx="464.8" cy="581.7" r="3.3" fill="#6ece58"/>
<circle cx="406.8" cy="582.5" r="3.3" fill="#21918c"/>
<circle cx="411.4" cy="586.3" r="3.3" fill="#21918c"/>
<circle cx="429.0" cy="589.5" r="3.3" fill="#228b8d"/>
<circle cx="456.0" cy="592.7" r="3.3" fill="#22a884"/>
<circle cx="458.4" cy="591.0" r="3.3" fill="#2fb47c"/>
<circle cx="468.7" cy="584.6" r="3.3" fill="#2fb47c"/>
<circle cx="470.7" cy="589.0" r="3.3" fill="#26ad81"/>
<circle cx="474.1" cy="589.3" r="3.3" fill="#2fb47c"/>
<circle cx="479.5" cy="591.5" r="3.3" fill="#228b8d"/>
<circle cx="481.5" cy="570.3" r="3.3" fill="#5ec962"/>
<circle cx="483.9" cy="573.7" r="3.3" fill="#5ec962"/>
<circle cx="481.5" cy="579.6" r="3.3" fill="#5ec962"/>
<circle cx="488.8" cy="576.7" r="3.3" fill="#63cb5f"/>
<circle cx="494.7" cy="574.2" r="3.3" fill="#63cb5f"/>
<circle cx="493.2" cy="578.2" r="3.3" fill="#58c765"/>
<circle cx="500.6" cy="574.2" r="3.3" fill="#63cb5f"/>
<circle cx="490.8" cy="581.1" r="3.3" fill="#4ec36b"/>
<circle cx="487.4" cy="581.6" r="3.3" fill="#63cb5f"/>
<circle cx="493.2" cy="583.5" r="3.3" fill="#6ece58"/>
<circle cx="502.1" cy="578.2" r="3.3" fill="#69cd5b"/>
<circle cx="501.1" cy="582.1" r="3.3" fill="#69cd5b"/>
<circle cx="503.5" cy="584.5" r="3.3" fill="#4ec36b"/>
<circle cx="499.6" cy="585.5" r="3.3" fill="#4ec36b"/>
<circle cx="501.1" cy="587.5" r="3.3" fill="#4ec36b"/>
<circle cx="506.5" cy="588.4" r="3.3" fill="#7ad151"/>
<circle cx="505.0" cy="580.1" r="3.3" fill="#5ec962"/>
<circle cx="509.4" cy="579.1" r="3.3" fill="#69cd5b"/>
<circle cx="514.3" cy="577.7" r="3.3" fill="#69cd5b"/>
<circle cx="513.8" cy="581.3" r="3.3" fill="#69cd5b"/>
<circle cx="522.2" cy="579.6" r="3.3" fill="#69cd5b"/>
<circle cx="525.1" cy="581.9" r="3.3" fill="#69cd5b"/>
<circle cx="531.8" cy="585.5" r="3.3" fill="#69cd5b"/>
<circle cx="519.7" cy="588.9" r="3.3" fill="#7ad151"/>
<circle cx="514.3" cy="590.9" r="3.3" fill="#7ad151"/>
<circle cx="516.5" cy="588.9" r="3.3" fill="#6ece58"/>
<circle cx="540.8" cy="585.0" r="3.3" fill="#69cd5b"/>
<circle cx="544.2" cy="583.5" r="3.3" fill="#69cd5b"/>
<circle cx="546.7" cy="587.0" r="3.3" fill="#69cd5b"/>
<circle cx="550.1" cy="588.4" r="3.3" fill="#69cd5b"/>
<circle cx="555.0" cy="586.5" r="3.3" fill="#69cd5b"/>
<circle cx="536.4" cy="589.9" r="3.3" fill="#63cb5f"/>
<circle cx="541.3" cy="590.4" r="3.3" fill="#58c765"/>
<circle cx="547.0" cy="592.7" r="3.3" fill="#63cb5f"/>
<circle cx="555.0" cy="590.4" r="3.3" fill="#6ece58"/>
<circle cx="552.1" cy="594.8" r="3.3" fill="#86d549"/>
<circle cx="561.4" cy="589.9" r="3.3" fill="#69cd5b"/>
<circle cx="564.8" cy="592.4" r="3.3" fill="#69cd5b"/>
<circle cx="561.4" cy="597.8" r="3.3" fill="#86d549"/>
<circle cx="556.0" cy="598.2" r="3.3" fill="#86d549"/>
<circle cx="579.0" cy="590.9" r="3.3" fill="#7ad151"/>
<circle cx="487.4" cy="588.9" r="3.3" fill="#3bbb75"/>
<circle cx="489.8" cy="593.8" r="3.3" fill="#3bbb75"/>
<circle cx="493.7" cy="592.4" r="3.3" fill="#44bf70"/>
<circle cx="483.4" cy="591.4" r="3.3" fill="#5ec962"/>
<circle cx="489.8" cy="597.8" r="3.3" fill="#1e9c89"/>
<circle cx="496.9" cy="598.7" r="3.3" fill="#20a386"/>
<circle cx="500.4" cy="594.5" r="3.3" fill="#21918c"/>
<circle cx="505.8" cy="594.1" r="3.3" fill="#3bbb75"/>
<circle cx="522.6" cy="594.8" r="3.3" fill="#26ad81"/>
<circle cx="531.0" cy="594.1" r="3.3" fill="#3bbb75"/>
<circle cx="538.5" cy="601.7" r="3.3" fill="#26ad81"/>
<circle cx="536.9" cy="599.5" r="3.3" fill="#44bf70"/>
<circle cx="545.2" cy="598.4" r="3.3" fill="#228b8d"/>
<circle cx="554.5" cy="602.2" r="3.3" fill="#44bf70"/>
<circle cx="565.3" cy="600.2" r="3.3" fill="#21918c"/>
<circle cx="569.2" cy="602.7" r="3.3" fill="#21918c"/>
<circle cx="569.2" cy="596.0" r="3.3" fill="#4ec36b"/>
<circle cx="572.2" cy="601.2" r="3.3" fill="#7ad151"/>
<circle cx="575.1" cy="602.2" r="3.3" fill="#2fb47c"/>
<circle cx="578.5" cy="601.2" r="3.3" fill="#4ec36b"/>
<circle cx="583.9" cy="598.2" r="3.3" fill="#7ad151"/>
<circle cx="585.4" cy="601.6" r="3.3" fill="#4ec36b"/>
<circle cx="590.3" cy="598.0" r="3.3" fill="#7ad151"/>
<circle cx="595.2" cy="595.7" r="3.3" fill="#86d549"/>
<circle cx="592.3" cy="602.4" r="3.3" fill="#26ad81"/>
<circle cx="600.1" cy="601.1" r="3.3" fill="#4ec36b"/>
<circle cx="602.5" cy="599.6" r="3.3" fill="#4ec36b"/>
<circle cx="606.0" cy="600.1" r="3.3" fill="#7ad151"/>
<circle cx="609.4" cy="598.4" r="3.3" fill="#7ad151"/>
<circle cx="611.4" cy="598.2" r="3.3" fill="#7ad151"/>
<circle cx="610.9" cy="601.3" r="3.3" fill="#3bbb75"/>
<circle cx="606.0" cy="605.0" r="3.3" fill="#5ec962"/>
<circle cx="611.9" cy="604.5" r="3.3" fill="#44bf70"/>
<circle cx="614.5" cy="606.5" r="3.3" fill="#4ec36b"/>
<circle cx="625.6" cy="597.0" r="3.3" fill="#86d549"/>
<circle cx="630.5" cy="598.6" r="3.3" fill="#8ed645"/>
<circle cx="624.6" cy="600.6" r="3.3" fill="#7ad151"/>
<circle cx="625.6" cy="602.9" r="3.3" fill="#95d840"/>
<circle cx="628.5" cy="605.0" r="3.3" fill="#7ad151"/>
<circle cx="633.4" cy="602.6" r="3.3" fill="#95d840"/>
<circle cx="638.3" cy="601.6" r="3.3" fill="#95d840"/>
<circle cx="635.9" cy="602.1" r="3.3" fill="#95d840"/>
<circle cx="630.5" cy="610.6" r="3.3" fill="#2fb47c"/>
<circle cx="640.0" cy="611.1" r="3.3" fill="#22a884"/>
<circle cx="644.7" cy="608.0" r="3.3" fill="#7ad151"/>
<circle cx="642.7" cy="605.5" r="3.3" fill="#8ed645"/>
<circle cx="649.1" cy="603.5" r="3.3" fill="#95d840"/>
<circle cx="647.6" cy="608.4" r="3.3" fill="#a2da37"/>
<circle cx="652.1" cy="607.5" r="3.3" fill="#9bd93c"/>
<circle cx="655.3" cy="604.0" r="3.3" fill="#8ed645"/>
<circle cx="667.3" cy="610.9" r="3.3" fill="#2fb47c"/>
<circle cx="659.2" cy="608.9" r="3.3" fill="#8ed645"/>
<circle cx="663.3" cy="608.0" r="3.3" fill="#95d840"/>
<circle cx="663.3" cy="611.9" r="3.3" fill="#a2da37"/>
<circle cx="668.7" cy="607.5" r="3.3" fill="#95d840"/>
<circle cx="676.6" cy="609.4" r="3.3" fill="#44bf70"/>
<circle cx="673.6" cy="609.4" r="3.3" fill="#9bd93c"/>
<circle cx="675.6" cy="611.9" r="3.3" fill="#a2da37"/>
<circle cx="679.5" cy="609.9" r="3.3" fill="#b0dd2f"/>
<circle cx="672.6" cy="618.7" r="3.3" fill="#9bd93c"/>
<circle cx="673.6" cy="616.8" r="3.3" fill="#22a884"/>
<circle cx="677.5" cy="616.3" r="3.3" fill="#4ec36b"/>
<circle cx="679.0" cy="619.2" r="3.3" fill="#22a884"/>
<circle cx="682.5" cy="609.2" r="3.3" fill="#b0dd2f"/>
<circle cx="685.4" cy="614.1" r="3.3" fill="#a8db34"/>
<circle cx="680.5" cy="615.1" r="3.3" fill="#b0dd2f"/>
<circle cx="686.9" cy="618.5" r="3.3" fill="#4ec36b"/>
<circle cx="698.3" cy="616.1" r="3.3" fill="#b0dd2f"/>
<circle cx="703.0" cy="619.5" r="3.3" fill="#9bd93c"/>
<circle cx="703.7" cy="621.2" r="3.3" fill="#bddf26"/>
<circle cx="693.7" cy="620.0" r="3.3" fill="#5ec962"/>
<circle cx="693.0" cy="622.5" r="3.3" fill="#b0dd2f"/>
<circle cx="698.6" cy="623.4" r="3.3" fill="#cae11f"/>
<circle cx="695.2" cy="628.8" r="3.3" fill="#21918c"/>
<circle cx="697.6" cy="627.9" r="3.3" fill="#86d549"/>
<circle cx="702.7" cy="626.9" r="3.3" fill="#7ad151"/>
<circle cx="701.1" cy="629.8" r="3.3" fill="#9bd93c"/>
<circle cx="711.9" cy="621.8" r="3.3" fill="#b0dd2f"/>
<circle cx="712.8" cy="627.1" r="3.3" fill="#6ece58"/>
<circle cx="710.9" cy="630.8" r="3.3" fill="#44bf70"/>
<circle cx="711.4" cy="632.3" r="3.3" fill="#d2e21b"/>
<circle cx="714.3" cy="635.7" r="3.3" fill="#dfe318"/>
<circle cx="716.8" cy="631.3" r="3.3" fill="#d2e21b"/>
<circle cx="714.3" cy="633.7" r="3.3" fill="#d2e21b"/>
<circle cx="719.0" cy="625.4" r="3.3" fill="#bddf26"/>
<circle cx="723.1" cy="625.7" r="3.3" fill="#cae11f"/>
<circle cx="727.8" cy="629.3" r="3.3" fill="#cae11f"/>
<circle cx="722.2" cy="633.2" r="3.3" fill="#2fb47c"/>
<circle cx="724.6" cy="630.3" r="3.3" fill="#bddf26"/>
<circle cx="732.6" cy="633.0" r="3.3" fill="#d2e21b"/>
<circle cx="730.0" cy="634.7" r="3.3" fill="#dfe318"/>
<circle cx="730.2" cy="637.2" r="3.3" fill="#3bbb75"/>
<circle cx="732.9" cy="639.1" r="3.3" fill="#bddf26"/>
<circle cx="720.4" cy="639.6" r="3.3" fill="#9bd93c"/>
<circle cx="741.8" cy="637.0" r="3.3" fill="#bddf26"/>
<circle cx="747.2" cy="637.7" r="3.3" fill="#dfe318"/>
<circle cx="749.6" cy="641.1" r="3.3" fill="#26ad81"/>
<circle cx="728.0" cy="644.5" r="3.3" fill="#fde725"/>
<circle cx="730.8" cy="643.1" r="3.3" fill="#b0dd2f"/>
<circle cx="736.9" cy="642.1" r="3.3" fill="#fde725"/>
<circle cx="742.7" cy="644.5" r="3.3" fill="#fde725"/>
<circle cx="737.8" cy="647.5" r="3.3" fill="#fde725"/>
<circle cx="741.3" cy="650.9" r="3.3" fill="#fde725"/>
<circle cx="732.9" cy="649.9" r="3.3" fill="#2fb47c"/>
<circle cx="735.4" cy="653.3" r="3.3" fill="#7ad151"/>
<circle cx="738.8" cy="654.3" r="3.3" fill="#fde725"/>
<circle cx="755.0" cy="639.6" r="3.3" fill="#fde725"/>
<circle cx="758.4" cy="640.6" r="3.3" fill="#fde725"/>
<circle cx="756.0" cy="643.5" r="3.3" fill="#fde725"/>
<circle cx="762.8" cy="640.6" r="3.3" fill="#fde725"/>
<circle cx="752.5" cy="648.4" r="3.3" fill="#bddf26"/>
<circle cx="747.6" cy="647.5" r="3.3" fill="#6ece58"/>
<circle cx="745.7" cy="649.4" r="3.3" fill="#7ad151"/>
<circle cx="769.2" cy="641.6" r="3.3" fill="#ece51b"/>
<circle cx="772.0" cy="643.5" r="3.3" fill="#ece51b"/>
<circle cx="775.6" cy="641.1" r="3.3" fill="#dfe318"/>
<circle cx="765.3" cy="644.5" r="3.3" fill="#fde725"/>
<circle cx="778.0" cy="645.5" r="3.3" fill="#bddf26"/>
<circle cx="760.4" cy="648.4" r="3.3" fill="#fde725"/>
<circle cx="764.3" cy="650.4" r="3.3" fill="#fde725"/>
<circle cx="771.2" cy="649.4" r="3.3" fill="#bddf26"/>
<circle cx="768.7" cy="651.4" r="3.3" fill="#dfe318"/>
<circle cx="750.6" cy="653.3" r="3.3" fill="#9bd93c"/>
<circle cx="755.5" cy="652.4" r="3.3" fill="#9bd93c"/>
<circle cx="753.5" cy="656.3" r="3.3" fill="#fde725"/>
<circle cx="753.5" cy="658.7" r="3.3" fill="#26ad81"/>
<circle cx="747.6" cy="658.7" r="3.3" fill="#fde725"/>
<circle cx="741.8" cy="659.2" r="3.3" fill="#21918c"/>
<circle cx="759.4" cy="658.2" r="3.3" fill="#7ad151"/>
<circle cx="761.4" cy="656.3" r="3.3" fill="#44bf70"/>
<circle cx="764.3" cy="655.8" r="3.3" fill="#5ec962"/>
<circle cx="767.7" cy="657.3" r="3.3" fill="#9bd93c"/>
<circle cx="773.1" cy="658.7" r="3.3" fill="#fde725"/>
<circle cx="774.1" cy="653.3" r="3.3" fill="#2fb47c"/>
<circle cx="776.6" cy="657.3" r="3.3" fill="#7ad151"/>
<circle cx="779.5" cy="654.3" r="3.3" fill="#7ad151"/>
<circle cx="779.0" cy="650.4" r="3.3" fill="#bddf26"/>
<circle cx="783.9" cy="658.7" r="3.3" fill="#355f8d"/>
<circle cx="809.4" cy="660.7" r="3.3" fill="#463480"/>
<circle cx="789.3" cy="657.5" r="3.3" fill="#9bd93c"/>
<circle cx="784.9" cy="643.5" r="3.3" fill="#fde725"/>
<circle cx="787.8" cy="644.0" r="3.3" fill="#7ad151"/>
<circle cx="781.0" cy="649.4" r="3.3" fill="#fde725"/>
<circle cx="785.9" cy="651.4" r="3.3" fill="#fde725"/>
<circle cx="783.4" cy="654.3" r="3.3" fill="#9bd93c"/>
<circle cx="791.8" cy="650.4" r="3.3" fill="#22a884"/>
<circle cx="795.5" cy="649.9" r="3.3" fill="#355f8d"/>
<circle cx="797.6" cy="648.4" r="3.3" fill="#5ec962"/>
<circle cx="802.5" cy="650.4" r="3.3" fill="#7ad151"/>
<circle cx="798.6" cy="653.8" r="3.3" fill="#fde725"/>
<circle cx="803.0" cy="654.8" r="3.3" fill="#fde725"/>
<circle cx="807.9" cy="652.4" r="3.3" fill="#bddf26"/>
<circle cx="809.9" cy="657.8" r="3.3" fill="#22a884"/>
<circle cx="794.2" cy="658.2" r="3.3" fill="#1e9c89"/>
<circle cx="802.5" cy="662.7" r="3.3" fill="#21918c"/>
<circle cx="804.5" cy="660.2" r="3.3" fill="#fde725"/>
<circle cx="798.1" cy="661.4" r="3.3" fill="#481d6f"/>
<circle cx="797.6" cy="665.6" r="3.3" fill="#21918c"/>
<circle cx="809.9" cy="664.9" r="3.3" fill="#375a8c"/>
<circle cx="785.9" cy="665.6" r="3.3" fill="#b0dd2f"/>
<circle cx="795.2" cy="670.8" r="3.3" fill="#fde725"/>
<circle cx="820.2" cy="673.2" r="3.3" fill="#440154"/>
<circle cx="820.4" cy="679.3" r="3.3" fill="#2a788e"/>
<circle cx="784.6" cy="675.4" r="3.3" fill="#fde725"/>
<circle cx="785.6" cy="678.3" r="3.3" fill="#fde725"/>
<circle cx="798.6" cy="675.9" r="3.3" fill="#fde725"/>
<circle cx="801.8" cy="675.6" r="3.3" fill="#32648e"/>
<circle cx="793.5" cy="683.4" r="3.3" fill="#fde725"/>
<circle cx="799.6" cy="684.2" r="3.3" fill="#22a884"/>
<circle cx="805.7" cy="682.8" r="3.3" fill="#355f8d"/>
<circle cx="807.0" cy="685.7" r="3.3" fill="#7ad151"/>
<circle cx="802.1" cy="685.5" r="3.3" fill="#5ec962"/>
<circle cx="806.7" cy="690.4" r="3.3" fill="#32648e"/>
<circle cx="819.7" cy="686.7" r="3.3" fill="#414487"/>
<circle cx="820.7" cy="689.1" r="3.3" fill="#46085c"/>
<circle cx="825.6" cy="690.1" r="3.3" fill="#463480"/>
<circle cx="823.1" cy="693.1" r="3.3" fill="#1e9c89"/>
<circle cx="825.6" cy="695.0" r="3.3" fill="#46085c"/>
<circle cx="829.5" cy="692.1" r="3.3" fill="#463480"/>
<circle cx="813.8" cy="693.1" r="3.3" fill="#355f8d"/>
<circle cx="813.8" cy="697.5" r="3.3" fill="#1f958b"/>
<circle cx="829.5" cy="700.4" r="3.3" fill="#440154"/>
<circle cx="753.5" cy="666.3" r="3.3" fill="#2fb47c"/>
<circle cx="757.0" cy="664.1" r="3.3" fill="#fde725"/>
<circle cx="759.4" cy="660.7" r="3.3" fill="#fde725"/>
<circle cx="762.8" cy="669.5" r="3.3" fill="#fde725"/>
<circle cx="766.8" cy="665.1" r="3.3" fill="#fde725"/>
<circle cx="769.2" cy="662.7" r="3.3" fill="#44bf70"/>
<circle cx="771.2" cy="666.1" r="3.3" fill="#44bf70"/>
<circle cx="771.2" cy="671.2" r="3.3" fill="#fde725"/>
<circle cx="775.3" cy="664.1" r="3.3" fill="#fde725"/>
<circle cx="779.0" cy="664.6" r="3.3" fill="#bddf26"/>
<circle cx="744.2" cy="661.7" r="3.3" fill="#22a884"/>
<circle cx="841.6" cy="680.9" r="3.3" fill="#440154"/>
<circle cx="834.7" cy="701.5" r="3.3" fill="#2f6c8e"/>
<circle cx="831.5" cy="695.8" r="3.3" fill="#21918c"/>
</g>
<rect x="909.6" y="0.5" width="17.9" height="355.2" fill="url(#vg)"/>
<rect x="909.6" y="355.7" width="17.9" height="355.8" fill="url(#vg)"/>
<g fill="none" stroke="#0c0c0c" stroke-width="1.1">
<rect x="909.6" y="0.5" width="17.9" height="711.0"/>
<path d="M909.6 355.7H927.5"/>
</g>
<g fill="none" stroke="#2e2e2e" stroke-width="1.25">
<rect x="83.45" y="0.5" width="777.8" height="711.0"/>
<path d="M83.45 355.7H861.3"/>
</g>
<g fill="none" stroke="#000" stroke-width="1.1">
<path d="M79.25 58.4H83.45"/>
<path d="M79.25 141.1H83.45"/>
<path d="M79.25 223.8H83.45"/>
<path d="M79.25 306.5H83.45"/>
<path d="M79.25 413.4H83.45"/>
<path d="M79.25 496.1H83.45"/>
<path d="M79.25 578.8H83.45"/>
<path d="M79.25 661.5H83.45"/>
<path d="M207.6 711.45V715.6500000000001"/>
<path d="M363.2 711.45V715.6500000000001"/>
<path d="M518.8 711.45V715.6500000000001"/>
<path d="M674.4 711.45V715.6500000000001"/>
<path d="M830.0 711.45V715.6500000000001"/>
<path d="M927.5 37.3H931.7"/>
<path d="M927.5 163.3H931.7"/>
<path d="M927.5 289.3H931.7"/>
<path d="M927.5 355.9H931.7"/>
<path d="M927.5 449.3H931.7"/>
<path d="M927.5 542.7H931.7"/>
<path d="M927.5 636.1H931.7"/>
</g>
<text x="75.3" y="69.9" font-size="33" text-anchor="end" textLength="38.5" lengthAdjust="spacingAndGlyphs">3.5</text>
<text x="75.3" y="152.6" font-size="33" text-anchor="end" textLength="38.5" lengthAdjust="spacingAndGlyphs">4.0</text>
<text x="75.3" y="235.3" font-size="33" text-anchor="end" textLength="38.5" lengthAdjust="spacingAndGlyphs">4.5</text>
<text x="75.3" y="318.0" font-size="33" text-anchor="end" textLength="38.5" lengthAdjust="spacingAndGlyphs">5.0</text>
<text x="75.3" y="424.9" font-size="33" text-anchor="end" textLength="38.5" lengthAdjust="spacingAndGlyphs">3.5</text>
<text x="75.3" y="507.6" font-size="33" text-anchor="end" textLength="38.5" lengthAdjust="spacingAndGlyphs">4.0</text>
<text x="75.3" y="590.3" font-size="33" text-anchor="end" textLength="38.5" lengthAdjust="spacingAndGlyphs">4.5</text>
<text x="75.3" y="673.0" font-size="33" text-anchor="end" textLength="38.5" lengthAdjust="spacingAndGlyphs">5.0</text>
<text x="207.6" y="742.3" font-size="33" text-anchor="middle" textLength="60" lengthAdjust="spacingAndGlyphs">7000</text>
<text x="363.2" y="742.3" font-size="33" text-anchor="middle" textLength="60" lengthAdjust="spacingAndGlyphs">6000</text>
<text x="518.8" y="742.3" font-size="33" text-anchor="middle" textLength="60" lengthAdjust="spacingAndGlyphs">5000</text>
<text x="674.4" y="742.3" font-size="33" text-anchor="middle" textLength="60" lengthAdjust="spacingAndGlyphs">4000</text>
<text x="830.0" y="742.3" font-size="33" text-anchor="middle" textLength="60" lengthAdjust="spacingAndGlyphs">3000</text>
<text x="935.0" y="49.0" font-size="33" text-anchor="start" textLength="53.5" lengthAdjust="spacingAndGlyphs">10.0</text>
<text x="935.6" y="175.0" font-size="33" text-anchor="start" textLength="38.5" lengthAdjust="spacingAndGlyphs">9.5</text>
<text x="935.6" y="301.0" font-size="33" text-anchor="start" textLength="38.5" lengthAdjust="spacingAndGlyphs">9.0</text>
<text x="935.6" y="367.6" font-size="33" text-anchor="start" textLength="38.5" lengthAdjust="spacingAndGlyphs">2.0</text>
<text x="935.0" y="461.0" font-size="33" text-anchor="start" textLength="40.0" lengthAdjust="spacingAndGlyphs">1.5</text>
<text x="935.0" y="554.4" font-size="33" text-anchor="start" textLength="40.0" lengthAdjust="spacingAndGlyphs">1.0</text>
<text x="935.6" y="647.8" font-size="33" text-anchor="start" textLength="38.5" lengthAdjust="spacingAndGlyphs">0.5</text>
<text transform="translate(24.6 178.9) rotate(-90)" font-size="33" text-anchor="middle" textLength="74.5" lengthAdjust="spacingAndGlyphs">log<tspan font-size="38" dy="1.5">(</tspan><tspan font-style="italic" dy="-1.5">g</tspan><tspan font-size="38" dy="1.5">)</tspan></text>
<text transform="translate(24.6 534.1) rotate(-90)" font-size="33" text-anchor="middle" textLength="74.5" lengthAdjust="spacingAndGlyphs">log<tspan font-size="38" dy="1.5">(</tspan><tspan font-style="italic" dy="-1.5">g</tspan><tspan font-size="38" dy="1.5">)</tspan></text>
<text x="452.5" y="770.4" font-size="33" font-style="italic" textLength="21" lengthAdjust="spacingAndGlyphs">T</text>
<text x="471.3" y="775.6" font-size="23" textLength="21.5" lengthAdjust="spacingAndGlyphs">eff</text>
<text transform="translate(1011.8 271.5) rotate(-90)" font-size="33" word-spacing="5" textLength="186.3" lengthAdjust="spacingAndGlyphs">log<tspan font-size="23" dy="8.5">10</tspan><tspan font-size="38" dy="-7">(</tspan><tspan dy="-1.5">Age [yr]</tspan><tspan font-size="38" dy="1.5">)</tspan></text>
<text transform="translate(997.0 720.7) rotate(-90)" font-size="33" word-spacing="5" textLength="373.9" lengthAdjust="spacingAndGlyphs">log<tspan font-size="23" dy="8.5">10</tspan><tspan font-size="38" dy="-7">(</tspan><tspan dy="-1.5">Rotation period [days]</tspan><tspan font-size="38" dy="1.5">)</tspan></text>
</svg></body></html>
